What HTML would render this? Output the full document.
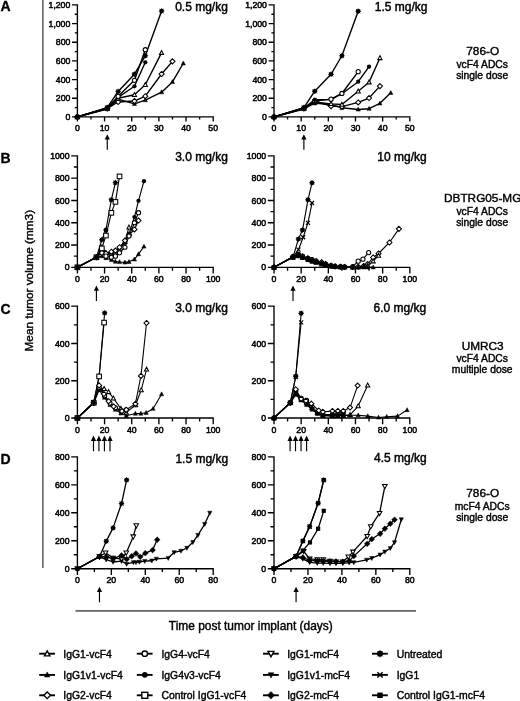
<!DOCTYPE html>
<html lang="en"><head><meta charset="utf-8"><title>Figure</title>
<style>
html,body{margin:0;padding:0;background:#fff;}
body{width:520px;height:701px;overflow:hidden;}
svg{display:block;}
text{font-family:"Liberation Sans",Arial,Helvetica,sans-serif;fill:#000;stroke:#000;stroke-width:0.3px;}
.t{font-size:8.7px;stroke-width:0.5px;}
.d{font-size:12px;stroke-width:0.45px;}
.p{font-size:14px;font-weight:bold;}
.yt{font-size:11.8px;stroke-width:0.4px;}
.xt{font-size:11.93px;stroke-width:0.4px;}
.r1{font-size:11.8px;stroke-width:0.4px;}
.r2{font-size:10.3px;stroke-width:0.4px;}
.l{font-size:10.4px;stroke-width:0.4px;}
</style></head><body>
<svg width="520" height="701" viewBox="0 0 520 701">
<rect width="520" height="701" fill="#fff"/>
<path d="M42.9 0L42.9 568" stroke="#333" stroke-width="1.2" fill="none"/>
<path d="M75.5 610.9L416 610.9" stroke="#666" stroke-width="1.7" fill="none"/>
<text class="p" x="0.5" y="10.8">A</text>
<text class="p" x="0.5" y="163.2">B</text>
<text class="p" x="0.5" y="314.2">C</text>
<text class="p" x="0.5" y="464">D</text>
<text class="yt" transform="translate(33 351.5) rotate(-90)">Mean tumor volume (mm3)</text>
<text class="xt" x="168.8" y="630.2">Time post tumor implant (days)</text>
<text class="r1" x="482.7" y="55.4" text-anchor="middle">786-O</text>
<text class="r2" x="482.2" y="68" text-anchor="middle">vcF4 ADCs</text>
<text class="r2" x="482.2" y="79.3" text-anchor="middle">single dose</text>
<text class="r1" x="482.7" y="202.1" text-anchor="middle">DBTRG05-MG</text>
<text class="r2" x="482.2" y="214.7" text-anchor="middle">vcF4 ADCs</text>
<text class="r2" x="482.2" y="226" text-anchor="middle">single dose</text>
<text class="r1" x="482.7" y="349.5" text-anchor="middle">UMRC3</text>
<text class="r2" x="482.2" y="362.1" text-anchor="middle">vcF4 ADCs</text>
<text class="r2" x="482.2" y="373.4" text-anchor="middle">multiple dose</text>
<text class="r1" x="482.7" y="497" text-anchor="middle">786-O</text>
<text class="r2" x="482.2" y="509.6" text-anchor="middle">mcF4 ADCs</text>
<text class="r2" x="482.2" y="520.9" text-anchor="middle">single dose</text>
<path d="M77.4 4.23L77.4 121.6M72 116.9L213.88 116.9M74.8 107.57L77.4 107.57M72 98.23L77.4 98.23M74.8 88.9L77.4 88.9M72 79.57L77.4 79.57M74.8 70.24L77.4 70.24M72 60.9L77.4 60.9M74.8 51.57L77.4 51.57M72 42.24L77.4 42.24M74.8 32.9L77.4 32.9M72 23.57L77.4 23.57M74.8 14.24L77.4 14.24M72 4.9L77.4 4.9M90.98 116.9L90.98 119.4M104.56 116.9L104.56 121.6M118.14 116.9L118.14 119.4M131.72 116.9L131.72 121.6M145.3 116.9L145.3 119.4M158.88 116.9L158.88 121.6M172.46 116.9L172.46 119.4M186.04 116.9L186.04 121.6M199.62 116.9L199.62 119.4M213.2 116.9L213.2 121.6" stroke="#000" stroke-width="1.35" fill="none"/>
<text class="t" x="70.3" y="119.95" text-anchor="end">0</text>
<text class="t" x="70.3" y="101.28" text-anchor="end">200</text>
<text class="t" x="70.3" y="82.62" text-anchor="end">400</text>
<text class="t" x="70.3" y="63.95" text-anchor="end">600</text>
<text class="t" x="70.3" y="45.29" text-anchor="end">800</text>
<text class="t" x="70.3" y="26.62" text-anchor="end">1,000</text>
<text class="t" x="70.3" y="7.95" text-anchor="end">1,200</text>
<text class="t" x="77.4" y="130.6" text-anchor="middle">0</text>
<text class="t" x="104.56" y="130.6" text-anchor="middle">10</text>
<text class="t" x="131.72" y="130.6" text-anchor="middle">20</text>
<text class="t" x="158.88" y="130.6" text-anchor="middle">30</text>
<text class="t" x="186.04" y="130.6" text-anchor="middle">40</text>
<text class="t" x="213.2" y="130.6" text-anchor="middle">50</text>
<text class="d" x="175.2" y="10.7">0.5 mg/kg</text>
<polyline points="77.4,116.9 107.28,108.97 118.14,99.17 134.44,103.83 145.3,100.1 161.6,92.17 172.46,81.9 183.32,63.24" fill="none" stroke="#000" stroke-width="1.4" stroke-linejoin="round"/>
<polyline points="77.4,116.9 107.28,108.5 118.14,101.97 134.44,101.03 145.3,96.18 161.6,73.97 172.46,61.37" fill="none" stroke="#000" stroke-width="1.4" stroke-linejoin="round"/>
<polyline points="77.4,116.9 107.28,108.5 118.14,98.23 134.44,94.78 145.3,84.7 161.6,52.69" fill="none" stroke="#000" stroke-width="1.4" stroke-linejoin="round"/>
<polyline points="77.4,116.9 107.28,108.03 118.14,97.3 134.44,86.29 145.3,62.3" fill="none" stroke="#000" stroke-width="1.4" stroke-linejoin="round"/>
<polyline points="77.4,116.9 107.28,108.03 118.14,96.37 134.44,80.31 145.3,49.7" fill="none" stroke="#000" stroke-width="1.4" stroke-linejoin="round"/>
<polyline points="77.4,116.9 107.28,107.57 118.14,91.42 134.44,74.15 145.3,55.77 161.6,10.97" fill="none" stroke="#000" stroke-width="1.4" stroke-linejoin="round"/>
<polygon points="77.4,114.6 75.3,118.55 79.5,118.55" fill="#000" stroke="#000" stroke-width="0.5"/>
<polygon points="107.28,106.67 105.18,110.62 109.38,110.62" fill="#000" stroke="#000" stroke-width="0.5"/>
<polygon points="118.14,96.87 116.04,100.82 120.24,100.82" fill="#000" stroke="#000" stroke-width="0.5"/>
<polygon points="134.44,101.53 132.34,105.48 136.54,105.48" fill="#000" stroke="#000" stroke-width="0.5"/>
<polygon points="145.3,97.8 143.2,101.75 147.4,101.75" fill="#000" stroke="#000" stroke-width="0.5"/>
<polygon points="161.6,89.87 159.5,93.82 163.7,93.82" fill="#000" stroke="#000" stroke-width="0.5"/>
<polygon points="172.46,79.6 170.36,83.55 174.56,83.55" fill="#000" stroke="#000" stroke-width="0.5"/>
<polygon points="183.32,60.94 181.22,64.89 185.42,64.89" fill="#000" stroke="#000" stroke-width="0.5"/>
<polygon points="77.4,114.35 79.95,116.9 77.4,119.45 74.85,116.9" fill="#fff" stroke="#000" stroke-width="1.05"/>
<polygon points="107.28,105.95 109.83,108.5 107.28,111.05 104.73,108.5" fill="#fff" stroke="#000" stroke-width="1.05"/>
<polygon points="118.14,99.42 120.69,101.97 118.14,104.52 115.59,101.97" fill="#fff" stroke="#000" stroke-width="1.05"/>
<polygon points="134.44,98.48 136.99,101.03 134.44,103.58 131.89,101.03" fill="#fff" stroke="#000" stroke-width="1.05"/>
<polygon points="145.3,93.63 147.85,96.18 145.3,98.73 142.75,96.18" fill="#fff" stroke="#000" stroke-width="1.05"/>
<polygon points="161.6,71.42 164.15,73.97 161.6,76.52 159.05,73.97" fill="#fff" stroke="#000" stroke-width="1.05"/>
<polygon points="172.46,58.82 175.01,61.37 172.46,63.92 169.91,61.37" fill="#fff" stroke="#000" stroke-width="1.05"/>
<polygon points="77.4,114.7 75.3,118.6 79.5,118.6" fill="#fff" stroke="#000" stroke-width="1.05"/>
<polygon points="107.28,106.3 105.18,110.2 109.38,110.2" fill="#fff" stroke="#000" stroke-width="1.05"/>
<polygon points="118.14,96.03 116.04,99.93 120.24,99.93" fill="#fff" stroke="#000" stroke-width="1.05"/>
<polygon points="134.44,92.58 132.34,96.48 136.54,96.48" fill="#fff" stroke="#000" stroke-width="1.05"/>
<polygon points="145.3,82.5 143.2,86.4 147.4,86.4" fill="#fff" stroke="#000" stroke-width="1.05"/>
<polygon points="161.6,50.49 159.5,54.39 163.7,54.39" fill="#fff" stroke="#000" stroke-width="1.05"/>
<circle cx="77.4" cy="116.9" r="2.15" fill="#000"/>
<circle cx="107.28" cy="108.03" r="2.15" fill="#000"/>
<circle cx="118.14" cy="97.3" r="2.15" fill="#000"/>
<circle cx="134.44" cy="86.29" r="2.15" fill="#000"/>
<circle cx="145.3" cy="62.3" r="2.15" fill="#000"/>
<circle cx="77.4" cy="116.9" r="2.1" fill="#fff" stroke="#000" stroke-width="1.05"/>
<circle cx="107.28" cy="108.03" r="2.1" fill="#fff" stroke="#000" stroke-width="1.05"/>
<circle cx="118.14" cy="96.37" r="2.1" fill="#fff" stroke="#000" stroke-width="1.05"/>
<circle cx="134.44" cy="80.31" r="2.1" fill="#fff" stroke="#000" stroke-width="1.05"/>
<circle cx="145.3" cy="49.7" r="2.1" fill="#fff" stroke="#000" stroke-width="1.05"/>
<g stroke="#000" stroke-width="0.8"><circle cx="77.4" cy="116.9" r="2.25" fill="#000" stroke="none"/><path d="M75.37 114.87L79.44 118.94M75.37 118.94L79.44 114.87M74.65 116.9L80.15 116.9M77.4 114.15L77.4 119.65"/></g>
<g stroke="#000" stroke-width="0.8"><circle cx="107.28" cy="107.57" r="2.25" fill="#000" stroke="none"/><path d="M105.24 105.53L109.31 109.6M105.24 109.6L109.31 105.53M104.53 107.57L110.03 107.57M107.28 104.82L107.28 110.32"/></g>
<g stroke="#000" stroke-width="0.8"><circle cx="118.14" cy="91.42" r="2.25" fill="#000" stroke="none"/><path d="M116.11 89.39L120.18 93.46M116.11 93.46L120.18 89.39M115.39 91.42L120.89 91.42M118.14 88.67L118.14 94.17"/></g>
<g stroke="#000" stroke-width="0.8"><circle cx="134.44" cy="74.15" r="2.25" fill="#000" stroke="none"/><path d="M132.4 72.12L136.47 76.19M132.4 76.19L136.47 72.12M131.69 74.15L137.19 74.15M134.44 71.4L134.44 76.9"/></g>
<g stroke="#000" stroke-width="0.8"><circle cx="145.3" cy="55.77" r="2.25" fill="#000" stroke="none"/><path d="M143.27 53.73L147.34 57.8M143.27 57.8L147.34 53.73M142.55 55.77L148.05 55.77M145.3 53.02L145.3 58.52"/></g>
<g stroke="#000" stroke-width="0.8"><circle cx="161.6" cy="10.97" r="2.25" fill="#000" stroke="none"/><path d="M159.56 8.94L163.63 13.01M159.56 13.01L163.63 8.94M158.85 10.97L164.35 10.97M161.6 8.22L161.6 13.72"/></g>
<path d="M107.28 137.2L107.28 149.8" stroke="#000" stroke-width="1.15" fill="none"/>
<polygon points="107.28,134.2 104.68,139.6 109.88,139.6" fill="#000"/>
<path d="M274 4.23L274 121.6M268.6 116.9L410.48 116.9M271.4 107.57L274 107.57M268.6 98.23L274 98.23M271.4 88.9L274 88.9M268.6 79.57L274 79.57M271.4 70.24L274 70.24M268.6 60.9L274 60.9M271.4 51.57L274 51.57M268.6 42.24L274 42.24M271.4 32.9L274 32.9M268.6 23.57L274 23.57M271.4 14.24L274 14.24M268.6 4.9L274 4.9M287.58 116.9L287.58 119.4M301.16 116.9L301.16 121.6M314.74 116.9L314.74 119.4M328.32 116.9L328.32 121.6M341.9 116.9L341.9 119.4M355.48 116.9L355.48 121.6M369.06 116.9L369.06 119.4M382.64 116.9L382.64 121.6M396.22 116.9L396.22 119.4M409.8 116.9L409.8 121.6" stroke="#000" stroke-width="1.35" fill="none"/>
<text class="t" x="266.9" y="119.95" text-anchor="end">0</text>
<text class="t" x="266.9" y="101.28" text-anchor="end">200</text>
<text class="t" x="266.9" y="82.62" text-anchor="end">400</text>
<text class="t" x="266.9" y="63.95" text-anchor="end">600</text>
<text class="t" x="266.9" y="45.29" text-anchor="end">800</text>
<text class="t" x="266.9" y="26.62" text-anchor="end">1,000</text>
<text class="t" x="266.9" y="7.95" text-anchor="end">1,200</text>
<text class="t" x="274" y="130.6" text-anchor="middle">0</text>
<text class="t" x="301.16" y="130.6" text-anchor="middle">10</text>
<text class="t" x="328.32" y="130.6" text-anchor="middle">20</text>
<text class="t" x="355.48" y="130.6" text-anchor="middle">30</text>
<text class="t" x="382.64" y="130.6" text-anchor="middle">40</text>
<text class="t" x="409.8" y="130.6" text-anchor="middle">50</text>
<text class="d" x="374.8" y="10.7">1.5 mg/kg</text>
<polyline points="274,116.9 303.88,108.97 314.74,103.09 331.04,104.77 341.9,107.75 358.2,109.43 369.06,108.69 379.92,103.37 390.79,92.82" fill="none" stroke="#000" stroke-width="1.4" stroke-linejoin="round"/>
<polyline points="274,116.9 303.88,108.5 314.74,101.03 331.04,106.17 341.9,106.63 358.2,102.43 369.06,98.05 379.92,86.1" fill="none" stroke="#000" stroke-width="1.4" stroke-linejoin="round"/>
<polyline points="274,116.9 303.88,108.5 314.74,101.97 331.04,103.83 341.9,104.49 358.2,91.23 369.06,82.18 379.92,57.92" fill="none" stroke="#000" stroke-width="1.4" stroke-linejoin="round"/>
<polyline points="274,116.9 303.88,108.03 314.74,99.82 331.04,99.63 341.9,93.75 358.2,81.71 369.06,66.69" fill="none" stroke="#000" stroke-width="1.4" stroke-linejoin="round"/>
<polyline points="274,116.9 303.88,108.03 314.74,101.03 331.04,99.17 341.9,93.47 358.2,71.63" fill="none" stroke="#000" stroke-width="1.4" stroke-linejoin="round"/>
<polyline points="274,116.9 303.88,107.57 314.74,91.23 331.04,74.25 341.9,55.77 358.2,11.16" fill="none" stroke="#000" stroke-width="1.4" stroke-linejoin="round"/>
<polygon points="274,114.6 271.9,118.55 276.1,118.55" fill="#000" stroke="#000" stroke-width="0.5"/>
<polygon points="303.88,106.67 301.78,110.62 305.98,110.62" fill="#000" stroke="#000" stroke-width="0.5"/>
<polygon points="314.74,100.79 312.64,104.74 316.84,104.74" fill="#000" stroke="#000" stroke-width="0.5"/>
<polygon points="331.04,102.47 328.94,106.42 333.14,106.42" fill="#000" stroke="#000" stroke-width="0.5"/>
<polygon points="341.9,105.45 339.8,109.4 344,109.4" fill="#000" stroke="#000" stroke-width="0.5"/>
<polygon points="358.2,107.13 356.1,111.08 360.3,111.08" fill="#000" stroke="#000" stroke-width="0.5"/>
<polygon points="369.06,106.39 366.96,110.34 371.16,110.34" fill="#000" stroke="#000" stroke-width="0.5"/>
<polygon points="379.92,101.07 377.82,105.02 382.02,105.02" fill="#000" stroke="#000" stroke-width="0.5"/>
<polygon points="390.79,90.52 388.69,94.47 392.89,94.47" fill="#000" stroke="#000" stroke-width="0.5"/>
<polygon points="274,114.35 276.55,116.9 274,119.45 271.45,116.9" fill="#fff" stroke="#000" stroke-width="1.05"/>
<polygon points="303.88,105.95 306.43,108.5 303.88,111.05 301.33,108.5" fill="#fff" stroke="#000" stroke-width="1.05"/>
<polygon points="314.74,98.48 317.29,101.03 314.74,103.58 312.19,101.03" fill="#fff" stroke="#000" stroke-width="1.05"/>
<polygon points="331.04,103.62 333.59,106.17 331.04,108.72 328.49,106.17" fill="#fff" stroke="#000" stroke-width="1.05"/>
<polygon points="341.9,104.08 344.45,106.63 341.9,109.18 339.35,106.63" fill="#fff" stroke="#000" stroke-width="1.05"/>
<polygon points="358.2,99.88 360.75,102.43 358.2,104.98 355.65,102.43" fill="#fff" stroke="#000" stroke-width="1.05"/>
<polygon points="369.06,95.5 371.61,98.05 369.06,100.6 366.51,98.05" fill="#fff" stroke="#000" stroke-width="1.05"/>
<polygon points="379.92,83.55 382.47,86.1 379.92,88.65 377.37,86.1" fill="#fff" stroke="#000" stroke-width="1.05"/>
<polygon points="274,114.7 271.9,118.6 276.1,118.6" fill="#fff" stroke="#000" stroke-width="1.05"/>
<polygon points="303.88,106.3 301.78,110.2 305.98,110.2" fill="#fff" stroke="#000" stroke-width="1.05"/>
<polygon points="314.74,99.77 312.64,103.67 316.84,103.67" fill="#fff" stroke="#000" stroke-width="1.05"/>
<polygon points="331.04,101.63 328.94,105.53 333.14,105.53" fill="#fff" stroke="#000" stroke-width="1.05"/>
<polygon points="341.9,102.29 339.8,106.19 344,106.19" fill="#fff" stroke="#000" stroke-width="1.05"/>
<polygon points="358.2,89.03 356.1,92.93 360.3,92.93" fill="#fff" stroke="#000" stroke-width="1.05"/>
<polygon points="369.06,79.98 366.96,83.88 371.16,83.88" fill="#fff" stroke="#000" stroke-width="1.05"/>
<polygon points="379.92,55.72 377.82,59.62 382.02,59.62" fill="#fff" stroke="#000" stroke-width="1.05"/>
<circle cx="274" cy="116.9" r="2.15" fill="#000"/>
<circle cx="303.88" cy="108.03" r="2.15" fill="#000"/>
<circle cx="314.74" cy="99.82" r="2.15" fill="#000"/>
<circle cx="331.04" cy="99.63" r="2.15" fill="#000"/>
<circle cx="341.9" cy="93.75" r="2.15" fill="#000"/>
<circle cx="358.2" cy="81.71" r="2.15" fill="#000"/>
<circle cx="369.06" cy="66.69" r="2.15" fill="#000"/>
<circle cx="274" cy="116.9" r="2.1" fill="#fff" stroke="#000" stroke-width="1.05"/>
<circle cx="303.88" cy="108.03" r="2.1" fill="#fff" stroke="#000" stroke-width="1.05"/>
<circle cx="314.74" cy="101.03" r="2.1" fill="#fff" stroke="#000" stroke-width="1.05"/>
<circle cx="331.04" cy="99.17" r="2.1" fill="#fff" stroke="#000" stroke-width="1.05"/>
<circle cx="341.9" cy="93.47" r="2.1" fill="#fff" stroke="#000" stroke-width="1.05"/>
<circle cx="358.2" cy="71.63" r="2.1" fill="#fff" stroke="#000" stroke-width="1.05"/>
<g stroke="#000" stroke-width="0.8"><circle cx="274" cy="116.9" r="2.25" fill="#000" stroke="none"/><path d="M271.96 114.87L276.04 118.94M271.96 118.94L276.04 114.87M271.25 116.9L276.75 116.9M274 114.15L274 119.65"/></g>
<g stroke="#000" stroke-width="0.8"><circle cx="303.88" cy="107.57" r="2.25" fill="#000" stroke="none"/><path d="M301.84 105.53L305.91 109.6M301.84 109.6L305.91 105.53M301.13 107.57L306.63 107.57M303.88 104.82L303.88 110.32"/></g>
<g stroke="#000" stroke-width="0.8"><circle cx="314.74" cy="91.23" r="2.25" fill="#000" stroke="none"/><path d="M312.7 89.2L316.78 93.27M312.7 93.27L316.78 89.2M311.99 91.23L317.49 91.23M314.74 88.48L314.74 93.98"/></g>
<g stroke="#000" stroke-width="0.8"><circle cx="331.04" cy="74.25" r="2.25" fill="#000" stroke="none"/><path d="M329 72.21L333.07 76.28M329 76.28L333.07 72.21M328.29 74.25L333.79 74.25M331.04 71.5L331.04 77"/></g>
<g stroke="#000" stroke-width="0.8"><circle cx="341.9" cy="55.77" r="2.25" fill="#000" stroke="none"/><path d="M339.86 53.73L343.94 57.8M339.86 57.8L343.94 53.73M339.15 55.77L344.65 55.77M341.9 53.02L341.9 58.52"/></g>
<g stroke="#000" stroke-width="0.8"><circle cx="358.2" cy="11.16" r="2.25" fill="#000" stroke="none"/><path d="M356.16 9.12L360.23 13.19M356.16 13.19L360.23 9.12M355.45 11.16L360.95 11.16M358.2 8.41L358.2 13.91"/></g>
<circle cx="314.74" cy="99.82" r="2.15" fill="#000"/>
<polygon points="314.74,100.79 312.64,104.74 316.84,104.74" fill="#000" stroke="#000" stroke-width="0.5"/>
<path d="M303.88 137.2L303.88 149.8" stroke="#000" stroke-width="1.15" fill="none"/>
<polygon points="303.88,134.2 301.28,139.6 306.48,139.6" fill="#000"/>
<path d="M77.4 155.22L77.4 273.6M71.2 267.3L213.88 267.3M73.9 256.16L77.4 256.16M71.2 245.02L77.4 245.02M73.9 233.88L77.4 233.88M71.2 222.74L77.4 222.74M73.9 211.6L77.4 211.6M71.2 200.46L77.4 200.46M73.9 189.32L77.4 189.32M71.2 178.18L77.4 178.18M73.9 167.04L77.4 167.04M71.2 155.9L77.4 155.9M90.98 267.3L90.98 270.7M104.56 267.3L104.56 273.6M118.14 267.3L118.14 270.7M131.72 267.3L131.72 273.6M145.3 267.3L145.3 270.7M158.88 267.3L158.88 273.6M172.46 267.3L172.46 270.7M186.04 267.3L186.04 273.6M199.62 267.3L199.62 270.7M213.2 267.3L213.2 273.6" stroke="#000" stroke-width="1.35" fill="none"/>
<text class="t" x="69.5" y="270.35" text-anchor="end">0</text>
<text class="t" x="69.5" y="248.07" text-anchor="end">200</text>
<text class="t" x="69.5" y="225.79" text-anchor="end">400</text>
<text class="t" x="69.5" y="203.51" text-anchor="end">600</text>
<text class="t" x="69.5" y="181.23" text-anchor="end">800</text>
<text class="t" x="69.5" y="158.95" text-anchor="end">1000</text>
<text class="t" x="77.4" y="281.9" text-anchor="middle">0</text>
<text class="t" x="104.56" y="281.9" text-anchor="middle">20</text>
<text class="t" x="131.72" y="281.9" text-anchor="middle">40</text>
<text class="t" x="158.88" y="281.9" text-anchor="middle">60</text>
<text class="t" x="186.04" y="281.9" text-anchor="middle">80</text>
<text class="t" x="213.2" y="281.9" text-anchor="middle">100</text>
<text class="d" x="175.2" y="161.2">3.0 mg/kg</text>
<polyline points="77.4,267.3 96.41,257.27 101.84,256.16 105.92,258.05 111.35,259.95 115.42,261.51 119.5,261.95 124.93,262.4 129,261.84 134.44,259.28 138.51,254.15 143.94,246.47" fill="none" stroke="#000" stroke-width="1.12" stroke-linejoin="round"/>
<polyline points="77.4,267.3 96.41,257.27 101.84,250.59 105.92,253.93 111.35,255.05 115.42,252.82 119.5,248.36 124.93,242.79 129,233.88 134.44,217.06 138.51,200.79 143.94,181.19" fill="none" stroke="#000" stroke-width="1.12" stroke-linejoin="round"/>
<polyline points="77.4,267.3 96.41,257.27 101.84,247.25 105.92,252.82 111.35,253.93 115.42,252.82 119.5,249.48 124.93,241.68 129,227.2" fill="none" stroke="#000" stroke-width="1.12" stroke-linejoin="round"/>
<polyline points="77.4,267.3 96.41,257.27 101.84,251.7 105.92,253.38 111.35,251.7 115.42,250.59 119.5,247.25 124.93,240.56 129,234.99 134.44,229.42 138.51,220.51" fill="none" stroke="#000" stroke-width="1.12" stroke-linejoin="round"/>
<polyline points="77.4,267.3 96.41,257.27 101.84,252.82 105.92,256.16 111.35,257.27 115.42,256.16 119.5,252.82 124.93,247.25 129,236.11 134.44,222.74 138.51,212.71" fill="none" stroke="#000" stroke-width="1.12" stroke-linejoin="round"/>
<polyline points="77.4,267.3 96.41,257.27 101.84,248.36 105.92,235.55 111.35,212.83 115.42,201.91 119.5,176.4" fill="none" stroke="#000" stroke-width="1.12" stroke-linejoin="round"/>
<polyline points="77.4,267.3 96.41,257.27 101.84,239.78 105.92,230.09 111.35,199.79 115.42,182.64" fill="none" stroke="#000" stroke-width="1.12" stroke-linejoin="round"/>
<polygon points="77.4,265 75.3,268.95 79.5,268.95" fill="#000" stroke="#000" stroke-width="0.5"/>
<polygon points="96.41,254.97 94.31,258.92 98.51,258.92" fill="#000" stroke="#000" stroke-width="0.5"/>
<polygon points="101.84,253.86 99.74,257.81 103.94,257.81" fill="#000" stroke="#000" stroke-width="0.5"/>
<polygon points="105.92,255.75 103.82,259.7 108.02,259.7" fill="#000" stroke="#000" stroke-width="0.5"/>
<polygon points="111.35,257.65 109.25,261.6 113.45,261.6" fill="#000" stroke="#000" stroke-width="0.5"/>
<polygon points="115.42,259.21 113.32,263.16 117.52,263.16" fill="#000" stroke="#000" stroke-width="0.5"/>
<polygon points="119.5,259.65 117.4,263.6 121.6,263.6" fill="#000" stroke="#000" stroke-width="0.5"/>
<polygon points="124.93,260.1 122.83,264.05 127.03,264.05" fill="#000" stroke="#000" stroke-width="0.5"/>
<polygon points="129,259.54 126.9,263.49 131.1,263.49" fill="#000" stroke="#000" stroke-width="0.5"/>
<polygon points="134.44,256.98 132.34,260.93 136.54,260.93" fill="#000" stroke="#000" stroke-width="0.5"/>
<polygon points="138.51,251.85 136.41,255.8 140.61,255.8" fill="#000" stroke="#000" stroke-width="0.5"/>
<polygon points="143.94,244.17 141.84,248.12 146.04,248.12" fill="#000" stroke="#000" stroke-width="0.5"/>
<circle cx="77.4" cy="267.3" r="2.15" fill="#000"/>
<circle cx="96.41" cy="257.27" r="2.15" fill="#000"/>
<circle cx="101.84" cy="250.59" r="2.15" fill="#000"/>
<circle cx="105.92" cy="253.93" r="2.15" fill="#000"/>
<circle cx="111.35" cy="255.05" r="2.15" fill="#000"/>
<circle cx="115.42" cy="252.82" r="2.15" fill="#000"/>
<circle cx="119.5" cy="248.36" r="2.15" fill="#000"/>
<circle cx="124.93" cy="242.79" r="2.15" fill="#000"/>
<circle cx="129" cy="233.88" r="2.15" fill="#000"/>
<circle cx="134.44" cy="217.06" r="2.15" fill="#000"/>
<circle cx="138.51" cy="200.79" r="2.15" fill="#000"/>
<circle cx="143.94" cy="181.19" r="2.15" fill="#000"/>
<polygon points="77.4,265.1 75.3,269 79.5,269" fill="#fff" stroke="#000" stroke-width="1.05"/>
<polygon points="96.41,255.07 94.31,258.97 98.51,258.97" fill="#fff" stroke="#000" stroke-width="1.05"/>
<polygon points="101.84,245.05 99.74,248.95 103.94,248.95" fill="#fff" stroke="#000" stroke-width="1.05"/>
<polygon points="105.92,250.62 103.82,254.52 108.02,254.52" fill="#fff" stroke="#000" stroke-width="1.05"/>
<polygon points="111.35,251.73 109.25,255.63 113.45,255.63" fill="#fff" stroke="#000" stroke-width="1.05"/>
<polygon points="115.42,250.62 113.32,254.52 117.52,254.52" fill="#fff" stroke="#000" stroke-width="1.05"/>
<polygon points="119.5,247.28 117.4,251.18 121.6,251.18" fill="#fff" stroke="#000" stroke-width="1.05"/>
<polygon points="124.93,239.48 122.83,243.38 127.03,243.38" fill="#fff" stroke="#000" stroke-width="1.05"/>
<polygon points="129,225 126.9,228.9 131.1,228.9" fill="#fff" stroke="#000" stroke-width="1.05"/>
<polygon points="77.4,264.75 79.95,267.3 77.4,269.85 74.85,267.3" fill="#fff" stroke="#000" stroke-width="1.05"/>
<polygon points="96.41,254.72 98.96,257.27 96.41,259.82 93.86,257.27" fill="#fff" stroke="#000" stroke-width="1.05"/>
<polygon points="101.84,249.15 104.39,251.7 101.84,254.25 99.29,251.7" fill="#fff" stroke="#000" stroke-width="1.05"/>
<polygon points="105.92,250.82 108.47,253.38 105.92,255.93 103.37,253.38" fill="#fff" stroke="#000" stroke-width="1.05"/>
<polygon points="111.35,249.15 113.9,251.7 111.35,254.25 108.8,251.7" fill="#fff" stroke="#000" stroke-width="1.05"/>
<polygon points="115.42,248.04 117.97,250.59 115.42,253.14 112.87,250.59" fill="#fff" stroke="#000" stroke-width="1.05"/>
<polygon points="119.5,244.7 122.05,247.25 119.5,249.8 116.95,247.25" fill="#fff" stroke="#000" stroke-width="1.05"/>
<polygon points="124.93,238.01 127.48,240.56 124.93,243.11 122.38,240.56" fill="#fff" stroke="#000" stroke-width="1.05"/>
<polygon points="129,232.44 131.55,234.99 129,237.54 126.45,234.99" fill="#fff" stroke="#000" stroke-width="1.05"/>
<polygon points="134.44,226.87 136.99,229.42 134.44,231.97 131.89,229.42" fill="#fff" stroke="#000" stroke-width="1.05"/>
<polygon points="138.51,217.96 141.06,220.51 138.51,223.06 135.96,220.51" fill="#fff" stroke="#000" stroke-width="1.05"/>
<circle cx="77.4" cy="267.3" r="2.1" fill="#fff" stroke="#000" stroke-width="1.05"/>
<circle cx="96.41" cy="257.27" r="2.1" fill="#fff" stroke="#000" stroke-width="1.05"/>
<circle cx="101.84" cy="252.82" r="2.1" fill="#fff" stroke="#000" stroke-width="1.05"/>
<circle cx="105.92" cy="256.16" r="2.1" fill="#fff" stroke="#000" stroke-width="1.05"/>
<circle cx="111.35" cy="257.27" r="2.1" fill="#fff" stroke="#000" stroke-width="1.05"/>
<circle cx="115.42" cy="256.16" r="2.1" fill="#fff" stroke="#000" stroke-width="1.05"/>
<circle cx="119.5" cy="252.82" r="2.1" fill="#fff" stroke="#000" stroke-width="1.05"/>
<circle cx="124.93" cy="247.25" r="2.1" fill="#fff" stroke="#000" stroke-width="1.05"/>
<circle cx="129" cy="236.11" r="2.1" fill="#fff" stroke="#000" stroke-width="1.05"/>
<circle cx="134.44" cy="222.74" r="2.1" fill="#fff" stroke="#000" stroke-width="1.05"/>
<circle cx="138.51" cy="212.71" r="2.1" fill="#fff" stroke="#000" stroke-width="1.05"/>
<rect x="75.1" y="265" width="4.6" height="4.6" fill="#fff" stroke="#000" stroke-width="1.05"/>
<rect x="94.11" y="254.97" width="4.6" height="4.6" fill="#fff" stroke="#000" stroke-width="1.05"/>
<rect x="99.54" y="246.06" width="4.6" height="4.6" fill="#fff" stroke="#000" stroke-width="1.05"/>
<rect x="103.62" y="233.25" width="4.6" height="4.6" fill="#fff" stroke="#000" stroke-width="1.05"/>
<rect x="109.05" y="210.53" width="4.6" height="4.6" fill="#fff" stroke="#000" stroke-width="1.05"/>
<rect x="113.12" y="199.61" width="4.6" height="4.6" fill="#fff" stroke="#000" stroke-width="1.05"/>
<rect x="117.2" y="174.1" width="4.6" height="4.6" fill="#fff" stroke="#000" stroke-width="1.05"/>
<g stroke="#000" stroke-width="0.8"><circle cx="77.4" cy="267.3" r="2.25" fill="#000" stroke="none"/><path d="M75.37 265.26L79.44 269.34M75.37 269.34L79.44 265.26M74.65 267.3L80.15 267.3M77.4 264.55L77.4 270.05"/></g>
<g stroke="#000" stroke-width="0.8"><circle cx="96.41" cy="257.27" r="2.25" fill="#000" stroke="none"/><path d="M94.38 255.24L98.45 259.31M94.38 259.31L98.45 255.24M93.66 257.27L99.16 257.27M96.41 254.52L96.41 260.02"/></g>
<g stroke="#000" stroke-width="0.8"><circle cx="101.84" cy="239.78" r="2.25" fill="#000" stroke="none"/><path d="M99.81 237.75L103.88 241.82M99.81 241.82L103.88 237.75M99.09 239.78L104.59 239.78M101.84 237.03L101.84 242.53"/></g>
<g stroke="#000" stroke-width="0.8"><circle cx="105.92" cy="230.09" r="2.25" fill="#000" stroke="none"/><path d="M103.88 228.06L107.95 232.13M103.88 232.13L107.95 228.06M103.17 230.09L108.67 230.09M105.92 227.34L105.92 232.84"/></g>
<g stroke="#000" stroke-width="0.8"><circle cx="111.35" cy="199.79" r="2.25" fill="#000" stroke="none"/><path d="M109.32 197.76L113.39 201.83M109.32 201.83L113.39 197.76M108.6 199.79L114.1 199.79M111.35 197.04L111.35 202.54"/></g>
<g stroke="#000" stroke-width="0.8"><circle cx="115.42" cy="182.64" r="2.25" fill="#000" stroke="none"/><path d="M113.39 180.6L117.46 184.67M113.39 184.67L117.46 180.6M112.67 182.64L118.17 182.64M115.42 179.89L115.42 185.39"/></g>
<path d="M96.41 288.4L96.41 301" stroke="#000" stroke-width="1.15" fill="none"/>
<polygon points="96.41,285.4 93.81,290.8 99.01,290.8" fill="#000"/>
<path d="M274 155.22L274 273.6M267.8 267.3L410.48 267.3M270.5 256.16L274 256.16M267.8 245.02L274 245.02M270.5 233.88L274 233.88M267.8 222.74L274 222.74M270.5 211.6L274 211.6M267.8 200.46L274 200.46M270.5 189.32L274 189.32M267.8 178.18L274 178.18M270.5 167.04L274 167.04M267.8 155.9L274 155.9M287.58 267.3L287.58 270.7M301.16 267.3L301.16 273.6M314.74 267.3L314.74 270.7M328.32 267.3L328.32 273.6M341.9 267.3L341.9 270.7M355.48 267.3L355.48 273.6M369.06 267.3L369.06 270.7M382.64 267.3L382.64 273.6M396.22 267.3L396.22 270.7M409.8 267.3L409.8 273.6" stroke="#000" stroke-width="1.35" fill="none"/>
<text class="t" x="266.1" y="270.35" text-anchor="end">0</text>
<text class="t" x="266.1" y="248.07" text-anchor="end">200</text>
<text class="t" x="266.1" y="225.79" text-anchor="end">400</text>
<text class="t" x="266.1" y="203.51" text-anchor="end">600</text>
<text class="t" x="266.1" y="181.23" text-anchor="end">800</text>
<text class="t" x="266.1" y="158.95" text-anchor="end">1000</text>
<text class="t" x="274" y="281.9" text-anchor="middle">0</text>
<text class="t" x="301.16" y="281.9" text-anchor="middle">20</text>
<text class="t" x="328.32" y="281.9" text-anchor="middle">40</text>
<text class="t" x="355.48" y="281.9" text-anchor="middle">60</text>
<text class="t" x="382.64" y="281.9" text-anchor="middle">80</text>
<text class="t" x="409.8" y="281.9" text-anchor="middle">100</text>
<text class="d" x="377.3" y="161.2">10 mg/kg</text>
<polyline points="274,267.3 293.01,256.72 298.44,254.49 302.52,256.16 307.95,258.39 312.02,259.72 316.1,261.17 321.53,262.84 325.6,264.18 331.04,265.63 335.11,266.41 340.54,266.74 344.62,266.97 352.76,266.74 358.2,261.17 362.95,259.17 368.65,252.6" fill="none" stroke="#000" stroke-width="1.12" stroke-linejoin="round"/>
<polyline points="274,267.3 293.01,256.72 298.44,255.05 302.52,256.72 307.95,258.39 312.02,260.06 316.1,261.17 321.53,262.29 325.6,263.96 331.04,265.63 335.11,266.41 340.54,266.74 344.62,266.97 352.76,267.08 358.2,266.74 363.63,265.96 367.7,264.07 373.13,257.5 378.57,253.49 389.43,242.46 398.94,228.87" fill="none" stroke="#000" stroke-width="1.12" stroke-linejoin="round"/>
<polyline points="274,267.3 293.01,257.27 298.44,255.6 302.52,257.27 307.95,258.94 312.02,260.62 316.1,261.95 321.53,263.4 325.6,264.85 331.04,265.96 335.11,266.63 340.54,266.97 344.62,267.08 352.76,267.3 358.2,266.97 363.63,266.41 367.7,265.63 373.13,261.17 378.57,255.49" fill="none" stroke="#000" stroke-width="1.12" stroke-linejoin="round"/>
<polyline points="274,267.3 293.01,256.72 298.44,256.16 302.52,257.83 307.95,259.5 312.02,260.62 316.1,261.73 321.53,263.4 325.6,264.51 331.04,265.96 335.11,266.63 340.54,266.97 344.62,267.08" fill="none" stroke="#000" stroke-width="1.12" stroke-linejoin="round"/>
<polyline points="274,267.3 293.01,257.27 298.44,256.16 302.52,257.83 307.95,260.06 312.02,261.73 316.1,262.84 321.53,264.51 325.6,265.63 331.04,266.41 335.11,266.85 340.54,267.08 344.62,267.3 352.76,267.3 358.2,267.3 363.63,267.3 367.7,267.3 373.13,267.3" fill="none" stroke="#000" stroke-width="1.12" stroke-linejoin="round"/>
<polyline points="274,267.3 293.01,257.27 298.44,249.7 303.2,237.22 307.95,222.85 312.02,203.02" fill="none" stroke="#000" stroke-width="1.12" stroke-linejoin="round"/>
<polyline points="274,267.3 293.01,257.27 298.44,239 302.52,230.09 307.95,199.79 312.02,182.86" fill="none" stroke="#000" stroke-width="1.12" stroke-linejoin="round"/>
<circle cx="274" cy="267.3" r="2.1" fill="#fff" stroke="#000" stroke-width="1.05"/>
<circle cx="293.01" cy="256.72" r="2.1" fill="#fff" stroke="#000" stroke-width="1.05"/>
<circle cx="298.44" cy="254.49" r="2.1" fill="#fff" stroke="#000" stroke-width="1.05"/>
<circle cx="302.52" cy="256.16" r="2.1" fill="#fff" stroke="#000" stroke-width="1.05"/>
<circle cx="307.95" cy="258.39" r="2.1" fill="#fff" stroke="#000" stroke-width="1.05"/>
<circle cx="312.02" cy="259.72" r="2.1" fill="#fff" stroke="#000" stroke-width="1.05"/>
<circle cx="316.1" cy="261.17" r="2.1" fill="#fff" stroke="#000" stroke-width="1.05"/>
<circle cx="321.53" cy="262.84" r="2.1" fill="#fff" stroke="#000" stroke-width="1.05"/>
<circle cx="325.6" cy="264.18" r="2.1" fill="#fff" stroke="#000" stroke-width="1.05"/>
<circle cx="331.04" cy="265.63" r="2.1" fill="#fff" stroke="#000" stroke-width="1.05"/>
<circle cx="335.11" cy="266.41" r="2.1" fill="#fff" stroke="#000" stroke-width="1.05"/>
<circle cx="340.54" cy="266.74" r="2.1" fill="#fff" stroke="#000" stroke-width="1.05"/>
<circle cx="344.62" cy="266.97" r="2.1" fill="#fff" stroke="#000" stroke-width="1.05"/>
<circle cx="352.76" cy="266.74" r="2.1" fill="#fff" stroke="#000" stroke-width="1.05"/>
<circle cx="358.2" cy="261.17" r="2.1" fill="#fff" stroke="#000" stroke-width="1.05"/>
<circle cx="362.95" cy="259.17" r="2.1" fill="#fff" stroke="#000" stroke-width="1.05"/>
<circle cx="368.65" cy="252.6" r="2.1" fill="#fff" stroke="#000" stroke-width="1.05"/>
<polygon points="274,264.75 276.55,267.3 274,269.85 271.45,267.3" fill="#fff" stroke="#000" stroke-width="1.05"/>
<polygon points="293.01,254.17 295.56,256.72 293.01,259.27 290.46,256.72" fill="#fff" stroke="#000" stroke-width="1.05"/>
<polygon points="298.44,252.5 300.99,255.05 298.44,257.6 295.89,255.05" fill="#fff" stroke="#000" stroke-width="1.05"/>
<polygon points="302.52,254.17 305.07,256.72 302.52,259.27 299.97,256.72" fill="#fff" stroke="#000" stroke-width="1.05"/>
<polygon points="307.95,255.84 310.5,258.39 307.95,260.94 305.4,258.39" fill="#fff" stroke="#000" stroke-width="1.05"/>
<polygon points="312.02,257.51 314.57,260.06 312.02,262.61 309.47,260.06" fill="#fff" stroke="#000" stroke-width="1.05"/>
<polygon points="316.1,258.62 318.65,261.17 316.1,263.72 313.55,261.17" fill="#fff" stroke="#000" stroke-width="1.05"/>
<polygon points="321.53,259.74 324.08,262.29 321.53,264.84 318.98,262.29" fill="#fff" stroke="#000" stroke-width="1.05"/>
<polygon points="325.6,261.41 328.15,263.96 325.6,266.51 323.05,263.96" fill="#fff" stroke="#000" stroke-width="1.05"/>
<polygon points="331.04,263.08 333.59,265.63 331.04,268.18 328.49,265.63" fill="#fff" stroke="#000" stroke-width="1.05"/>
<polygon points="335.11,263.86 337.66,266.41 335.11,268.96 332.56,266.41" fill="#fff" stroke="#000" stroke-width="1.05"/>
<polygon points="340.54,264.19 343.09,266.74 340.54,269.29 337.99,266.74" fill="#fff" stroke="#000" stroke-width="1.05"/>
<polygon points="344.62,264.42 347.17,266.97 344.62,269.52 342.07,266.97" fill="#fff" stroke="#000" stroke-width="1.05"/>
<polygon points="352.76,264.53 355.31,267.08 352.76,269.63 350.21,267.08" fill="#fff" stroke="#000" stroke-width="1.05"/>
<polygon points="358.2,264.19 360.75,266.74 358.2,269.29 355.65,266.74" fill="#fff" stroke="#000" stroke-width="1.05"/>
<polygon points="363.63,263.41 366.18,265.96 363.63,268.51 361.08,265.96" fill="#fff" stroke="#000" stroke-width="1.05"/>
<polygon points="367.7,261.52 370.25,264.07 367.7,266.62 365.15,264.07" fill="#fff" stroke="#000" stroke-width="1.05"/>
<polygon points="373.13,254.95 375.68,257.5 373.13,260.05 370.58,257.5" fill="#fff" stroke="#000" stroke-width="1.05"/>
<polygon points="378.57,250.94 381.12,253.49 378.57,256.04 376.02,253.49" fill="#fff" stroke="#000" stroke-width="1.05"/>
<polygon points="389.43,239.91 391.98,242.46 389.43,245.01 386.88,242.46" fill="#fff" stroke="#000" stroke-width="1.05"/>
<polygon points="398.94,226.32 401.49,228.87 398.94,231.42 396.39,228.87" fill="#fff" stroke="#000" stroke-width="1.05"/>
<polygon points="274,265.1 271.9,269 276.1,269" fill="#fff" stroke="#000" stroke-width="1.05"/>
<polygon points="293.01,255.07 290.91,258.97 295.11,258.97" fill="#fff" stroke="#000" stroke-width="1.05"/>
<polygon points="298.44,253.4 296.34,257.3 300.54,257.3" fill="#fff" stroke="#000" stroke-width="1.05"/>
<polygon points="302.52,255.07 300.42,258.97 304.62,258.97" fill="#fff" stroke="#000" stroke-width="1.05"/>
<polygon points="307.95,256.75 305.85,260.64 310.05,260.64" fill="#fff" stroke="#000" stroke-width="1.05"/>
<polygon points="312.02,258.42 309.92,262.32 314.12,262.32" fill="#fff" stroke="#000" stroke-width="1.05"/>
<polygon points="316.1,259.75 314,263.65 318.2,263.65" fill="#fff" stroke="#000" stroke-width="1.05"/>
<polygon points="321.53,261.2 319.43,265.1 323.63,265.1" fill="#fff" stroke="#000" stroke-width="1.05"/>
<polygon points="325.6,262.65 323.5,266.55 327.7,266.55" fill="#fff" stroke="#000" stroke-width="1.05"/>
<polygon points="331.04,263.76 328.94,267.66 333.14,267.66" fill="#fff" stroke="#000" stroke-width="1.05"/>
<polygon points="335.11,264.43 333.01,268.33 337.21,268.33" fill="#fff" stroke="#000" stroke-width="1.05"/>
<polygon points="340.54,264.77 338.44,268.67 342.64,268.67" fill="#fff" stroke="#000" stroke-width="1.05"/>
<polygon points="344.62,264.88 342.52,268.78 346.72,268.78" fill="#fff" stroke="#000" stroke-width="1.05"/>
<polygon points="352.76,265.1 350.66,269 354.86,269" fill="#fff" stroke="#000" stroke-width="1.05"/>
<polygon points="358.2,264.77 356.1,268.67 360.3,268.67" fill="#fff" stroke="#000" stroke-width="1.05"/>
<polygon points="363.63,264.21 361.53,268.11 365.73,268.11" fill="#fff" stroke="#000" stroke-width="1.05"/>
<polygon points="367.7,263.43 365.6,267.33 369.8,267.33" fill="#fff" stroke="#000" stroke-width="1.05"/>
<polygon points="373.13,258.97 371.03,262.87 375.23,262.87" fill="#fff" stroke="#000" stroke-width="1.05"/>
<polygon points="378.57,253.29 376.47,257.19 380.67,257.19" fill="#fff" stroke="#000" stroke-width="1.05"/>
<circle cx="274" cy="267.3" r="2.15" fill="#000"/>
<circle cx="293.01" cy="256.72" r="2.15" fill="#000"/>
<circle cx="298.44" cy="256.16" r="2.15" fill="#000"/>
<circle cx="302.52" cy="257.83" r="2.15" fill="#000"/>
<circle cx="307.95" cy="259.5" r="2.15" fill="#000"/>
<circle cx="312.02" cy="260.62" r="2.15" fill="#000"/>
<circle cx="316.1" cy="261.73" r="2.15" fill="#000"/>
<circle cx="321.53" cy="263.4" r="2.15" fill="#000"/>
<circle cx="325.6" cy="264.51" r="2.15" fill="#000"/>
<circle cx="331.04" cy="265.96" r="2.15" fill="#000"/>
<circle cx="335.11" cy="266.63" r="2.15" fill="#000"/>
<circle cx="340.54" cy="266.97" r="2.15" fill="#000"/>
<circle cx="344.62" cy="267.08" r="2.15" fill="#000"/>
<polygon points="274,265 271.9,268.95 276.1,268.95" fill="#000" stroke="#000" stroke-width="0.5"/>
<polygon points="293.01,254.97 290.91,258.92 295.11,258.92" fill="#000" stroke="#000" stroke-width="0.5"/>
<polygon points="298.44,253.86 296.34,257.81 300.54,257.81" fill="#000" stroke="#000" stroke-width="0.5"/>
<polygon points="302.52,255.53 300.42,259.48 304.62,259.48" fill="#000" stroke="#000" stroke-width="0.5"/>
<polygon points="307.95,257.76 305.85,261.71 310.05,261.71" fill="#000" stroke="#000" stroke-width="0.5"/>
<polygon points="312.02,259.43 309.92,263.38 314.12,263.38" fill="#000" stroke="#000" stroke-width="0.5"/>
<polygon points="316.1,260.54 314,264.49 318.2,264.49" fill="#000" stroke="#000" stroke-width="0.5"/>
<polygon points="321.53,262.21 319.43,266.16 323.63,266.16" fill="#000" stroke="#000" stroke-width="0.5"/>
<polygon points="325.6,263.33 323.5,267.28 327.7,267.28" fill="#000" stroke="#000" stroke-width="0.5"/>
<polygon points="331.04,264.11 328.94,268.06 333.14,268.06" fill="#000" stroke="#000" stroke-width="0.5"/>
<polygon points="335.11,264.55 333.01,268.5 337.21,268.5" fill="#000" stroke="#000" stroke-width="0.5"/>
<polygon points="340.54,264.78 338.44,268.73 342.64,268.73" fill="#000" stroke="#000" stroke-width="0.5"/>
<polygon points="344.62,265 342.52,268.95 346.72,268.95" fill="#000" stroke="#000" stroke-width="0.5"/>
<polygon points="352.76,265 350.66,268.95 354.86,268.95" fill="#000" stroke="#000" stroke-width="0.5"/>
<polygon points="358.2,265 356.1,268.95 360.3,268.95" fill="#000" stroke="#000" stroke-width="0.5"/>
<polygon points="363.63,265 361.53,268.95 365.73,268.95" fill="#000" stroke="#000" stroke-width="0.5"/>
<polygon points="367.7,265 365.6,268.95 369.8,268.95" fill="#000" stroke="#000" stroke-width="0.5"/>
<polygon points="373.13,265 371.03,268.95 375.23,268.95" fill="#000" stroke="#000" stroke-width="0.5"/>
<path stroke="#000" stroke-width="1.2" d="M272 265.3L276 269.3M272 269.3L276 265.3"/>
<path stroke="#000" stroke-width="1.2" d="M291.01 255.27L295.01 259.27M291.01 259.27L295.01 255.27"/>
<path stroke="#000" stroke-width="1.2" d="M296.44 247.7L300.44 251.7M296.44 251.7L300.44 247.7"/>
<path stroke="#000" stroke-width="1.2" d="M301.2 235.22L305.2 239.22M301.2 239.22L305.2 235.22"/>
<path stroke="#000" stroke-width="1.2" d="M305.95 220.85L309.95 224.85M305.95 224.85L309.95 220.85"/>
<path stroke="#000" stroke-width="1.2" d="M310.02 201.02L314.02 205.02M310.02 205.02L314.02 201.02"/>
<g stroke="#000" stroke-width="0.8"><circle cx="274" cy="267.3" r="2.25" fill="#000" stroke="none"/><path d="M271.96 265.26L276.04 269.34M271.96 269.34L276.04 265.26M271.25 267.3L276.75 267.3M274 264.55L274 270.05"/></g>
<g stroke="#000" stroke-width="0.8"><circle cx="293.01" cy="257.27" r="2.25" fill="#000" stroke="none"/><path d="M290.98 255.24L295.05 259.31M290.98 259.31L295.05 255.24M290.26 257.27L295.76 257.27M293.01 254.52L293.01 260.02"/></g>
<g stroke="#000" stroke-width="0.8"><circle cx="298.44" cy="239" r="2.25" fill="#000" stroke="none"/><path d="M296.41 236.97L300.48 241.04M296.41 241.04L300.48 236.97M295.69 239L301.19 239M298.44 236.25L298.44 241.75"/></g>
<g stroke="#000" stroke-width="0.8"><circle cx="302.52" cy="230.09" r="2.25" fill="#000" stroke="none"/><path d="M300.48 228.06L304.55 232.13M300.48 232.13L304.55 228.06M299.77 230.09L305.27 230.09M302.52 227.34L302.52 232.84"/></g>
<g stroke="#000" stroke-width="0.8"><circle cx="307.95" cy="199.79" r="2.25" fill="#000" stroke="none"/><path d="M305.91 197.76L309.99 201.83M305.91 201.83L309.99 197.76M305.2 199.79L310.7 199.79M307.95 197.04L307.95 202.54"/></g>
<g stroke="#000" stroke-width="0.8"><circle cx="312.02" cy="182.86" r="2.25" fill="#000" stroke="none"/><path d="M309.99 180.82L314.06 184.89M309.99 184.89L314.06 180.82M309.27 182.86L314.77 182.86M312.02 180.11L312.02 185.61"/></g>
<path d="M293.01 288.4L293.01 301" stroke="#000" stroke-width="1.15" fill="none"/>
<polygon points="293.01,285.4 290.41,290.8 295.61,290.8" fill="#000"/>
<path d="M77.4 305.51L77.4 424.3M71.2 418L213.88 418M73.9 399.37L77.4 399.37M71.2 380.73L77.4 380.73M73.9 362.1L77.4 362.1M71.2 343.46L77.4 343.46M73.9 324.82L77.4 324.82M71.2 306.19L77.4 306.19M90.98 418L90.98 421.4M104.56 418L104.56 424.3M118.14 418L118.14 421.4M131.72 418L131.72 424.3M145.3 418L145.3 421.4M158.88 418L158.88 424.3M172.46 418L172.46 421.4M186.04 418L186.04 424.3M199.62 418L199.62 421.4M213.2 418L213.2 424.3" stroke="#000" stroke-width="1.35" fill="none"/>
<text class="t" x="69.5" y="421.05" text-anchor="end">0</text>
<text class="t" x="69.5" y="383.78" text-anchor="end">200</text>
<text class="t" x="69.5" y="346.51" text-anchor="end">400</text>
<text class="t" x="69.5" y="309.24" text-anchor="end">600</text>
<text class="t" x="77.4" y="432.6" text-anchor="middle">0</text>
<text class="t" x="104.56" y="432.6" text-anchor="middle">20</text>
<text class="t" x="131.72" y="432.6" text-anchor="middle">40</text>
<text class="t" x="158.88" y="432.6" text-anchor="middle">60</text>
<text class="t" x="186.04" y="432.6" text-anchor="middle">80</text>
<text class="t" x="213.2" y="432.6" text-anchor="middle">100</text>
<text class="d" x="175.2" y="311.6">3.0 mg/kg</text>
<polyline points="77.4,418 93.7,403.09 99.13,390.05 104.56,397.5 109.99,404.96 115.42,409.61 120.86,413.34 126.29,415.76 135.39,413.53 140.82,413.53 146.11,412.78 153.04,408.68 161.6,394.15" fill="none" stroke="#000" stroke-width="1.08" stroke-linejoin="round"/>
<polyline points="77.4,418 93.7,402.72 99.13,387.25 104.15,388.74 108.63,391.91 113.39,398.25 120.86,408.68 126.29,412.41 135.52,404.96 141.23,390.05 146.52,369.36" fill="none" stroke="#000" stroke-width="1.08" stroke-linejoin="round"/>
<polyline points="77.4,418 93.7,402.72 99.13,387.25 104.56,395.64 109.99,403.09 115.42,407.75 121.67,411.29 126.02,409.8" fill="none" stroke="#000" stroke-width="1.08" stroke-linejoin="round"/>
<polyline points="77.4,418 93.7,402.72 99.13,385.39 103.88,393.96 108.63,401.23 113.66,406.45 121.94,411.11 126.29,409.8 135.39,403.84 140.95,375.88 146.52,322.96" fill="none" stroke="#000" stroke-width="1.08" stroke-linejoin="round"/>
<polyline points="77.4,418 93.7,402.72 99.13,376.44 104.63,312.9" fill="none" stroke="#000" stroke-width="1.08" stroke-linejoin="round"/>
<polyline points="77.4,418 93.7,402.72 99.13,376.44 104.08,322.59" fill="none" stroke="#000" stroke-width="1.08" stroke-linejoin="round"/>
<polyline points="77.4,418 93.7,402.72" fill="none" stroke="#000" stroke-width="1.08" stroke-linejoin="round"/>
<polygon points="77.4,415.7 75.3,419.65 79.5,419.65" fill="#000" stroke="#000" stroke-width="0.5"/>
<polygon points="93.7,400.79 91.6,404.74 95.8,404.74" fill="#000" stroke="#000" stroke-width="0.5"/>
<polygon points="99.13,387.75 97.03,391.7 101.23,391.7" fill="#000" stroke="#000" stroke-width="0.5"/>
<polygon points="104.56,395.2 102.46,399.15 106.66,399.15" fill="#000" stroke="#000" stroke-width="0.5"/>
<polygon points="109.99,402.66 107.89,406.61 112.09,406.61" fill="#000" stroke="#000" stroke-width="0.5"/>
<polygon points="115.42,407.31 113.32,411.26 117.52,411.26" fill="#000" stroke="#000" stroke-width="0.5"/>
<polygon points="120.86,411.04 118.76,414.99 122.96,414.99" fill="#000" stroke="#000" stroke-width="0.5"/>
<polygon points="126.29,413.46 124.19,417.41 128.39,417.41" fill="#000" stroke="#000" stroke-width="0.5"/>
<polygon points="135.39,411.23 133.29,415.18 137.49,415.18" fill="#000" stroke="#000" stroke-width="0.5"/>
<polygon points="140.82,411.23 138.72,415.18 142.92,415.18" fill="#000" stroke="#000" stroke-width="0.5"/>
<polygon points="146.11,410.48 144.01,414.43 148.21,414.43" fill="#000" stroke="#000" stroke-width="0.5"/>
<polygon points="153.04,406.38 150.94,410.33 155.14,410.33" fill="#000" stroke="#000" stroke-width="0.5"/>
<polygon points="161.6,391.85 159.5,395.8 163.7,395.8" fill="#000" stroke="#000" stroke-width="0.5"/>
<polygon points="77.4,415.8 75.3,419.7 79.5,419.7" fill="#fff" stroke="#000" stroke-width="1.05"/>
<polygon points="93.7,400.52 91.6,404.42 95.8,404.42" fill="#fff" stroke="#000" stroke-width="1.05"/>
<polygon points="99.13,385.05 97.03,388.95 101.23,388.95" fill="#fff" stroke="#000" stroke-width="1.05"/>
<polygon points="104.15,386.54 102.05,390.44 106.25,390.44" fill="#fff" stroke="#000" stroke-width="1.05"/>
<polygon points="108.63,389.71 106.53,393.61 110.73,393.61" fill="#fff" stroke="#000" stroke-width="1.05"/>
<polygon points="113.39,396.05 111.29,399.95 115.49,399.95" fill="#fff" stroke="#000" stroke-width="1.05"/>
<polygon points="120.86,406.48 118.76,410.38 122.96,410.38" fill="#fff" stroke="#000" stroke-width="1.05"/>
<polygon points="126.29,410.21 124.19,414.11 128.39,414.11" fill="#fff" stroke="#000" stroke-width="1.05"/>
<polygon points="135.52,402.76 133.42,406.66 137.62,406.66" fill="#fff" stroke="#000" stroke-width="1.05"/>
<polygon points="141.23,387.85 139.13,391.75 143.33,391.75" fill="#fff" stroke="#000" stroke-width="1.05"/>
<polygon points="146.52,367.16 144.42,371.06 148.62,371.06" fill="#fff" stroke="#000" stroke-width="1.05"/>
<circle cx="77.4" cy="418" r="2.1" fill="#fff" stroke="#000" stroke-width="1.05"/>
<circle cx="93.7" cy="402.72" r="2.1" fill="#fff" stroke="#000" stroke-width="1.05"/>
<circle cx="99.13" cy="387.25" r="2.1" fill="#fff" stroke="#000" stroke-width="1.05"/>
<circle cx="104.56" cy="395.64" r="2.1" fill="#fff" stroke="#000" stroke-width="1.05"/>
<circle cx="109.99" cy="403.09" r="2.1" fill="#fff" stroke="#000" stroke-width="1.05"/>
<circle cx="115.42" cy="407.75" r="2.1" fill="#fff" stroke="#000" stroke-width="1.05"/>
<circle cx="121.67" cy="411.29" r="2.1" fill="#fff" stroke="#000" stroke-width="1.05"/>
<circle cx="126.02" cy="409.8" r="2.1" fill="#fff" stroke="#000" stroke-width="1.05"/>
<polygon points="77.4,415.45 79.95,418 77.4,420.55 74.85,418" fill="#fff" stroke="#000" stroke-width="1.05"/>
<polygon points="93.7,400.17 96.25,402.72 93.7,405.27 91.15,402.72" fill="#fff" stroke="#000" stroke-width="1.05"/>
<polygon points="99.13,382.84 101.68,385.39 99.13,387.94 96.58,385.39" fill="#fff" stroke="#000" stroke-width="1.05"/>
<polygon points="103.88,391.41 106.43,393.96 103.88,396.51 101.33,393.96" fill="#fff" stroke="#000" stroke-width="1.05"/>
<polygon points="108.63,398.68 111.18,401.23 108.63,403.78 106.08,401.23" fill="#fff" stroke="#000" stroke-width="1.05"/>
<polygon points="113.66,403.9 116.21,406.45 113.66,409 111.11,406.45" fill="#fff" stroke="#000" stroke-width="1.05"/>
<polygon points="121.94,408.56 124.49,411.11 121.94,413.66 119.39,411.11" fill="#fff" stroke="#000" stroke-width="1.05"/>
<polygon points="126.29,407.25 128.84,409.8 126.29,412.35 123.74,409.8" fill="#fff" stroke="#000" stroke-width="1.05"/>
<polygon points="135.39,401.29 137.94,403.84 135.39,406.39 132.84,403.84" fill="#fff" stroke="#000" stroke-width="1.05"/>
<polygon points="140.95,373.33 143.5,375.88 140.95,378.43 138.4,375.88" fill="#fff" stroke="#000" stroke-width="1.05"/>
<polygon points="146.52,320.41 149.07,322.96 146.52,325.51 143.97,322.96" fill="#fff" stroke="#000" stroke-width="1.05"/>
<g stroke="#000" stroke-width="0.8"><circle cx="77.4" cy="418" r="2.25" fill="#000" stroke="none"/><path d="M75.37 415.96L79.44 420.04M75.37 420.04L79.44 415.96M74.65 418L80.15 418M77.4 415.25L77.4 420.75"/></g>
<g stroke="#000" stroke-width="0.8"><circle cx="93.7" cy="402.72" r="2.25" fill="#000" stroke="none"/><path d="M91.66 400.68L95.73 404.75M91.66 404.75L95.73 400.68M90.95 402.72L96.45 402.72M93.7 399.97L93.7 405.47"/></g>
<g stroke="#000" stroke-width="0.8"><circle cx="99.13" cy="376.44" r="2.25" fill="#000" stroke="none"/><path d="M97.09 374.41L101.16 378.48M97.09 378.48L101.16 374.41M96.38 376.44L101.88 376.44M99.13 373.69L99.13 379.19"/></g>
<g stroke="#000" stroke-width="0.8"><circle cx="104.63" cy="312.9" r="2.25" fill="#000" stroke="none"/><path d="M102.59 310.86L106.66 314.93M102.59 314.93L106.66 310.86M101.88 312.9L107.38 312.9M104.63 310.15L104.63 315.65"/></g>
<rect x="75.1" y="415.7" width="4.6" height="4.6" fill="#fff" stroke="#000" stroke-width="1.05"/>
<rect x="91.4" y="400.42" width="4.6" height="4.6" fill="#fff" stroke="#000" stroke-width="1.05"/>
<rect x="96.83" y="374.14" width="4.6" height="4.6" fill="#fff" stroke="#000" stroke-width="1.05"/>
<rect x="101.78" y="320.29" width="4.6" height="4.6" fill="#fff" stroke="#000" stroke-width="1.05"/>
<g stroke="#000" stroke-width="0.8"><circle cx="77.4" cy="418" r="2.25" fill="#000" stroke="none"/><path d="M75.37 415.96L79.44 420.04M75.37 420.04L79.44 415.96M74.65 418L80.15 418M77.4 415.25L77.4 420.75"/></g>
<g stroke="#000" stroke-width="0.8"><circle cx="93.7" cy="402.72" r="2.25" fill="#000" stroke="none"/><path d="M91.66 400.68L95.73 404.75M91.66 404.75L95.73 400.68M90.95 402.72L96.45 402.72M93.7 399.97L93.7 405.47"/></g>
<path d="M93.49 438.6L93.49 451.2" stroke="#000" stroke-width="1.15" fill="none"/>
<polygon points="93.49,435.6 90.89,441 96.09,441" fill="#000"/>
<path d="M98.92 438.6L98.92 451.2" stroke="#000" stroke-width="1.15" fill="none"/>
<polygon points="98.92,435.6 96.32,441 101.52,441" fill="#000"/>
<path d="M104.42 438.6L104.42 451.2" stroke="#000" stroke-width="1.15" fill="none"/>
<polygon points="104.42,435.6 101.82,441 107.02,441" fill="#000"/>
<path d="M109.99 438.6L109.99 451.2" stroke="#000" stroke-width="1.15" fill="none"/>
<polygon points="109.99,435.6 107.39,441 112.59,441" fill="#000"/>
<path d="M274 305.51L274 424.3M267.8 418L410.48 418M270.5 399.37L274 399.37M267.8 380.73L274 380.73M270.5 362.1L274 362.1M267.8 343.46L274 343.46M270.5 324.82L274 324.82M267.8 306.19L274 306.19M287.58 418L287.58 421.4M301.16 418L301.16 424.3M314.74 418L314.74 421.4M328.32 418L328.32 424.3M341.9 418L341.9 421.4M355.48 418L355.48 424.3M369.06 418L369.06 421.4M382.64 418L382.64 424.3M396.22 418L396.22 421.4M409.8 418L409.8 424.3" stroke="#000" stroke-width="1.35" fill="none"/>
<text class="t" x="266.1" y="421.05" text-anchor="end">0</text>
<text class="t" x="266.1" y="383.78" text-anchor="end">200</text>
<text class="t" x="266.1" y="346.51" text-anchor="end">400</text>
<text class="t" x="266.1" y="309.24" text-anchor="end">600</text>
<text class="t" x="274" y="432.6" text-anchor="middle">0</text>
<text class="t" x="301.16" y="432.6" text-anchor="middle">20</text>
<text class="t" x="328.32" y="432.6" text-anchor="middle">40</text>
<text class="t" x="355.48" y="432.6" text-anchor="middle">60</text>
<text class="t" x="382.64" y="432.6" text-anchor="middle">80</text>
<text class="t" x="409.8" y="432.6" text-anchor="middle">100</text>
<text class="d" x="373.5" y="311.6">6.0 mg/kg</text>
<polyline points="274,418 290.3,402.72 295.73,390.98 301.16,398.43 306.59,400.3 312.02,406.82 317.46,412.41 322.89,414.65 332.39,414.65 337.83,413.34 343.26,412.41" fill="none" stroke="#000" stroke-width="1.08" stroke-linejoin="round"/>
<polyline points="274,418 290.3,402.72 295.73,392.84 301.16,399.37 306.59,403.09 312.02,407.75 317.46,412.41 322.89,415.2 332.39,415.76 337.83,415.76 343.26,415.2 350.05,414.83 358.2,406.07 367.7,385.2" fill="none" stroke="#000" stroke-width="1.08" stroke-linejoin="round"/>
<polyline points="274,418 290.3,402.72 295.73,391.91 301.16,399.37 306.59,404.02 312.02,408.68 317.46,413.34 322.89,415.2 332.39,415.2 337.83,414.65 343.26,414.27" fill="none" stroke="#000" stroke-width="1.08" stroke-linejoin="round"/>
<polyline points="274,418 290.3,403.09 295.73,394.71 301.16,400.3 306.59,404.96 312.02,409.61 317.46,413.9 322.89,415.76 332.39,416.14 337.83,415.76 343.26,415.76 350.05,415.2 358.2,415.2 367.7,416.14 378.57,417.44 386.71,416.7 397.58,416.14 407.08,409.99" fill="none" stroke="#000" stroke-width="1.08" stroke-linejoin="round"/>
<polyline points="274,418 290.3,402.72 295.73,389.3 301.16,398.81 305.91,400.86 311.35,403.65 318.81,410.55 322.89,411.85 332.39,410.92 337.83,410.92 343.26,410.92 350.05,407.56 357.65,385.58" fill="none" stroke="#000" stroke-width="1.08" stroke-linejoin="round"/>
<polyline points="274,418 290.3,402.72 295.73,377 301.16,322.4" fill="none" stroke="#000" stroke-width="1.08" stroke-linejoin="round"/>
<polyline points="274,418 290.3,402.72 295.73,376.26 301.16,313.27" fill="none" stroke="#000" stroke-width="1.08" stroke-linejoin="round"/>
<circle cx="274" cy="418" r="2.1" fill="#fff" stroke="#000" stroke-width="1.05"/>
<circle cx="290.3" cy="402.72" r="2.1" fill="#fff" stroke="#000" stroke-width="1.05"/>
<circle cx="295.73" cy="390.98" r="2.1" fill="#fff" stroke="#000" stroke-width="1.05"/>
<circle cx="301.16" cy="398.43" r="2.1" fill="#fff" stroke="#000" stroke-width="1.05"/>
<circle cx="306.59" cy="400.3" r="2.1" fill="#fff" stroke="#000" stroke-width="1.05"/>
<circle cx="312.02" cy="406.82" r="2.1" fill="#fff" stroke="#000" stroke-width="1.05"/>
<circle cx="317.46" cy="412.41" r="2.1" fill="#fff" stroke="#000" stroke-width="1.05"/>
<circle cx="322.89" cy="414.65" r="2.1" fill="#fff" stroke="#000" stroke-width="1.05"/>
<circle cx="332.39" cy="414.65" r="2.1" fill="#fff" stroke="#000" stroke-width="1.05"/>
<circle cx="337.83" cy="413.34" r="2.1" fill="#fff" stroke="#000" stroke-width="1.05"/>
<circle cx="343.26" cy="412.41" r="2.1" fill="#fff" stroke="#000" stroke-width="1.05"/>
<polygon points="274,415.8 271.9,419.7 276.1,419.7" fill="#fff" stroke="#000" stroke-width="1.05"/>
<polygon points="290.3,400.52 288.2,404.42 292.4,404.42" fill="#fff" stroke="#000" stroke-width="1.05"/>
<polygon points="295.73,390.64 293.63,394.54 297.83,394.54" fill="#fff" stroke="#000" stroke-width="1.05"/>
<polygon points="301.16,397.17 299.06,401.06 303.26,401.06" fill="#fff" stroke="#000" stroke-width="1.05"/>
<polygon points="306.59,400.89 304.49,404.79 308.69,404.79" fill="#fff" stroke="#000" stroke-width="1.05"/>
<polygon points="312.02,405.55 309.92,409.45 314.12,409.45" fill="#fff" stroke="#000" stroke-width="1.05"/>
<polygon points="317.46,410.21 315.36,414.11 319.56,414.11" fill="#fff" stroke="#000" stroke-width="1.05"/>
<polygon points="322.89,413 320.79,416.9 324.99,416.9" fill="#fff" stroke="#000" stroke-width="1.05"/>
<polygon points="332.39,413.56 330.29,417.46 334.49,417.46" fill="#fff" stroke="#000" stroke-width="1.05"/>
<polygon points="337.83,413.56 335.73,417.46 339.93,417.46" fill="#fff" stroke="#000" stroke-width="1.05"/>
<polygon points="343.26,413 341.16,416.9 345.36,416.9" fill="#fff" stroke="#000" stroke-width="1.05"/>
<polygon points="350.05,412.63 347.95,416.53 352.15,416.53" fill="#fff" stroke="#000" stroke-width="1.05"/>
<polygon points="358.2,403.87 356.1,407.77 360.3,407.77" fill="#fff" stroke="#000" stroke-width="1.05"/>
<polygon points="367.7,383 365.6,386.9 369.8,386.9" fill="#fff" stroke="#000" stroke-width="1.05"/>
<circle cx="274" cy="418" r="2.15" fill="#000"/>
<circle cx="290.3" cy="402.72" r="2.15" fill="#000"/>
<circle cx="295.73" cy="391.91" r="2.15" fill="#000"/>
<circle cx="301.16" cy="399.37" r="2.15" fill="#000"/>
<circle cx="306.59" cy="404.02" r="2.15" fill="#000"/>
<circle cx="312.02" cy="408.68" r="2.15" fill="#000"/>
<circle cx="317.46" cy="413.34" r="2.15" fill="#000"/>
<circle cx="322.89" cy="415.2" r="2.15" fill="#000"/>
<circle cx="332.39" cy="415.2" r="2.15" fill="#000"/>
<circle cx="337.83" cy="414.65" r="2.15" fill="#000"/>
<circle cx="343.26" cy="414.27" r="2.15" fill="#000"/>
<polygon points="274,415.7 271.9,419.65 276.1,419.65" fill="#000" stroke="#000" stroke-width="0.5"/>
<polygon points="290.3,400.79 288.2,404.74 292.4,404.74" fill="#000" stroke="#000" stroke-width="0.5"/>
<polygon points="295.73,392.41 293.63,396.36 297.83,396.36" fill="#000" stroke="#000" stroke-width="0.5"/>
<polygon points="301.16,398 299.06,401.95 303.26,401.95" fill="#000" stroke="#000" stroke-width="0.5"/>
<polygon points="306.59,402.66 304.49,406.61 308.69,406.61" fill="#000" stroke="#000" stroke-width="0.5"/>
<polygon points="312.02,407.31 309.92,411.26 314.12,411.26" fill="#000" stroke="#000" stroke-width="0.5"/>
<polygon points="317.46,411.6 315.36,415.55 319.56,415.55" fill="#000" stroke="#000" stroke-width="0.5"/>
<polygon points="322.89,413.46 320.79,417.41 324.99,417.41" fill="#000" stroke="#000" stroke-width="0.5"/>
<polygon points="332.39,413.84 330.29,417.79 334.49,417.79" fill="#000" stroke="#000" stroke-width="0.5"/>
<polygon points="337.83,413.46 335.73,417.41 339.93,417.41" fill="#000" stroke="#000" stroke-width="0.5"/>
<polygon points="343.26,413.46 341.16,417.41 345.36,417.41" fill="#000" stroke="#000" stroke-width="0.5"/>
<polygon points="350.05,412.9 347.95,416.85 352.15,416.85" fill="#000" stroke="#000" stroke-width="0.5"/>
<polygon points="358.2,412.9 356.1,416.85 360.3,416.85" fill="#000" stroke="#000" stroke-width="0.5"/>
<polygon points="367.7,413.84 365.6,417.79 369.8,417.79" fill="#000" stroke="#000" stroke-width="0.5"/>
<polygon points="378.57,415.14 376.47,419.09 380.67,419.09" fill="#000" stroke="#000" stroke-width="0.5"/>
<polygon points="386.71,414.4 384.61,418.35 388.81,418.35" fill="#000" stroke="#000" stroke-width="0.5"/>
<polygon points="397.58,413.84 395.48,417.79 399.68,417.79" fill="#000" stroke="#000" stroke-width="0.5"/>
<polygon points="407.08,407.69 404.98,411.64 409.18,411.64" fill="#000" stroke="#000" stroke-width="0.5"/>
<polygon points="274,415.45 276.55,418 274,420.55 271.45,418" fill="#fff" stroke="#000" stroke-width="1.05"/>
<polygon points="290.3,400.17 292.85,402.72 290.3,405.27 287.75,402.72" fill="#fff" stroke="#000" stroke-width="1.05"/>
<polygon points="295.73,386.75 298.28,389.3 295.73,391.85 293.18,389.3" fill="#fff" stroke="#000" stroke-width="1.05"/>
<polygon points="301.16,396.26 303.71,398.81 301.16,401.36 298.61,398.81" fill="#fff" stroke="#000" stroke-width="1.05"/>
<polygon points="305.91,398.31 308.46,400.86 305.91,403.41 303.36,400.86" fill="#fff" stroke="#000" stroke-width="1.05"/>
<polygon points="311.35,401.1 313.9,403.65 311.35,406.2 308.8,403.65" fill="#fff" stroke="#000" stroke-width="1.05"/>
<polygon points="318.81,408 321.36,410.55 318.81,413.1 316.26,410.55" fill="#fff" stroke="#000" stroke-width="1.05"/>
<polygon points="322.89,409.3 325.44,411.85 322.89,414.4 320.34,411.85" fill="#fff" stroke="#000" stroke-width="1.05"/>
<polygon points="332.39,408.37 334.94,410.92 332.39,413.47 329.84,410.92" fill="#fff" stroke="#000" stroke-width="1.05"/>
<polygon points="337.83,408.37 340.38,410.92 337.83,413.47 335.28,410.92" fill="#fff" stroke="#000" stroke-width="1.05"/>
<polygon points="343.26,408.37 345.81,410.92 343.26,413.47 340.71,410.92" fill="#fff" stroke="#000" stroke-width="1.05"/>
<polygon points="350.05,405.01 352.6,407.56 350.05,410.11 347.5,407.56" fill="#fff" stroke="#000" stroke-width="1.05"/>
<polygon points="357.65,383.03 360.2,385.58 357.65,388.13 355.1,385.58" fill="#fff" stroke="#000" stroke-width="1.05"/>
<path stroke="#000" stroke-width="1.2" d="M272 416L276 420M272 420L276 416"/>
<path stroke="#000" stroke-width="1.2" d="M288.3 400.72L292.3 404.72M288.3 404.72L292.3 400.72"/>
<path stroke="#000" stroke-width="1.2" d="M293.73 375L297.73 379M293.73 379L297.73 375"/>
<path stroke="#000" stroke-width="1.2" d="M299.16 320.4L303.16 324.4M299.16 324.4L303.16 320.4"/>
<g stroke="#000" stroke-width="0.8"><circle cx="274" cy="418" r="2.25" fill="#000" stroke="none"/><path d="M271.96 415.96L276.04 420.04M271.96 420.04L276.04 415.96M271.25 418L276.75 418M274 415.25L274 420.75"/></g>
<g stroke="#000" stroke-width="0.8"><circle cx="290.3" cy="402.72" r="2.25" fill="#000" stroke="none"/><path d="M288.26 400.68L292.33 404.75M288.26 404.75L292.33 400.68M287.55 402.72L293.05 402.72M290.3 399.97L290.3 405.47"/></g>
<g stroke="#000" stroke-width="0.8"><circle cx="295.73" cy="376.26" r="2.25" fill="#000" stroke="none"/><path d="M293.69 374.22L297.76 378.29M293.69 378.29L297.76 374.22M292.98 376.26L298.48 376.26M295.73 373.51L295.73 379.01"/></g>
<g stroke="#000" stroke-width="0.8"><circle cx="301.16" cy="313.27" r="2.25" fill="#000" stroke="none"/><path d="M299.12 311.24L303.2 315.31M299.12 315.31L303.2 311.24M298.41 313.27L303.91 313.27M301.16 310.52L301.16 316.02"/></g>
<path d="M290.09 438.6L290.09 451.2" stroke="#000" stroke-width="1.15" fill="none"/>
<polygon points="290.09,435.6 287.49,441 292.69,441" fill="#000"/>
<path d="M295.52 438.6L295.52 451.2" stroke="#000" stroke-width="1.15" fill="none"/>
<polygon points="295.52,435.6 292.92,441 298.12,441" fill="#000"/>
<path d="M301.02 438.6L301.02 451.2" stroke="#000" stroke-width="1.15" fill="none"/>
<polygon points="301.02,435.6 298.42,441 303.62,441" fill="#000"/>
<path d="M306.59 438.6L306.59 451.2" stroke="#000" stroke-width="1.15" fill="none"/>
<polygon points="306.59,435.6 303.99,441 309.19,441" fill="#000"/>
<path d="M77.4 456.19L77.4 575M71.2 568.7L213.88 568.7M73.9 554.72L77.4 554.72M71.2 540.74L77.4 540.74M73.9 526.76L77.4 526.76M71.2 512.78L77.4 512.78M73.9 498.8L77.4 498.8M71.2 484.82L77.4 484.82M73.9 470.84L77.4 470.84M71.2 456.86L77.4 456.86M94.38 568.7L94.38 572.1M111.35 568.7L111.35 575M128.32 568.7L128.32 572.1M145.3 568.7L145.3 575M162.28 568.7L162.28 572.1M179.25 568.7L179.25 575M196.23 568.7L196.23 572.1M213.2 568.7L213.2 575" stroke="#000" stroke-width="1.35" fill="none"/>
<text class="t" x="69.5" y="571.75" text-anchor="end">0</text>
<text class="t" x="69.5" y="543.79" text-anchor="end">200</text>
<text class="t" x="69.5" y="515.83" text-anchor="end">400</text>
<text class="t" x="69.5" y="487.87" text-anchor="end">600</text>
<text class="t" x="69.5" y="459.91" text-anchor="end">800</text>
<text class="t" x="77.4" y="583.3" text-anchor="middle">0</text>
<text class="t" x="111.35" y="583.3" text-anchor="middle">20</text>
<text class="t" x="145.3" y="583.3" text-anchor="middle">40</text>
<text class="t" x="179.25" y="583.3" text-anchor="middle">60</text>
<text class="t" x="213.2" y="583.3" text-anchor="middle">80</text>
<text class="d" x="175.4" y="462.5">1.5 mg/kg</text>
<polyline points="77.4,568.7 99.47,556.68 106.26,559.61 113.05,561.99 121.53,561.15 126.63,563.95 133.42,562.41 135.96,562.41 139.36,561.99 144.79,561.15 151.75,560.73 156.33,558.91 168.22,558.08 174.16,552.34 180.95,550.95 186.89,548.01 192.83,542.28 197.92,535.15 204.71,524.1 209.81,512.92" fill="none" stroke="#000" stroke-width="1.3" stroke-linejoin="round"/>
<polyline points="77.4,568.7 99.47,556.68 105.58,552.76 113.05,558.08 121.53,558.91 126.29,552.76 133.25,536.69 136.3,525.64" fill="none" stroke="#000" stroke-width="1.3" stroke-linejoin="round"/>
<polyline points="77.4,568.7 99.47,556.68 106.26,556.82 113.05,558.63 121.53,555.42 126.63,559.19 131.72,556.26 135.96,553.46 140.21,556.82 145.3,553.18 152.6,550.11 157.18,539.76" fill="none" stroke="#000" stroke-width="1.3" stroke-linejoin="round"/>
<polyline points="77.4,568.7 99.47,556.68 106.26,541.16 113.05,527.88 121.53,503.55 126.63,479.93" fill="none" stroke="#000" stroke-width="1.3" stroke-linejoin="round"/>
<polygon points="77.4,571 75.25,567 79.55,567" fill="#000" stroke="#000" stroke-width="0.5"/>
<polygon points="99.47,558.98 97.32,554.98 101.62,554.98" fill="#000" stroke="#000" stroke-width="0.5"/>
<polygon points="106.26,561.91 104.11,557.91 108.41,557.91" fill="#000" stroke="#000" stroke-width="0.5"/>
<polygon points="113.05,564.29 110.9,560.29 115.2,560.29" fill="#000" stroke="#000" stroke-width="0.5"/>
<polygon points="121.53,563.45 119.38,559.45 123.69,559.45" fill="#000" stroke="#000" stroke-width="0.5"/>
<polygon points="126.63,566.25 124.48,562.25 128.78,562.25" fill="#000" stroke="#000" stroke-width="0.5"/>
<polygon points="133.42,564.71 131.27,560.71 135.57,560.71" fill="#000" stroke="#000" stroke-width="0.5"/>
<polygon points="135.96,564.71 133.81,560.71 138.11,560.71" fill="#000" stroke="#000" stroke-width="0.5"/>
<polygon points="139.36,564.29 137.21,560.29 141.51,560.29" fill="#000" stroke="#000" stroke-width="0.5"/>
<polygon points="144.79,563.45 142.64,559.45 146.94,559.45" fill="#000" stroke="#000" stroke-width="0.5"/>
<polygon points="151.75,563.03 149.6,559.03 153.9,559.03" fill="#000" stroke="#000" stroke-width="0.5"/>
<polygon points="156.33,561.21 154.18,557.21 158.48,557.21" fill="#000" stroke="#000" stroke-width="0.5"/>
<polygon points="168.22,560.38 166.07,556.38 170.37,556.38" fill="#000" stroke="#000" stroke-width="0.5"/>
<polygon points="174.16,554.64 172.01,550.64 176.31,550.64" fill="#000" stroke="#000" stroke-width="0.5"/>
<polygon points="180.95,553.25 178.8,549.25 183.1,549.25" fill="#000" stroke="#000" stroke-width="0.5"/>
<polygon points="186.89,550.31 184.74,546.31 189.04,546.31" fill="#000" stroke="#000" stroke-width="0.5"/>
<polygon points="192.83,544.58 190.68,540.58 194.98,540.58" fill="#000" stroke="#000" stroke-width="0.5"/>
<polygon points="197.92,537.45 195.77,533.45 200.07,533.45" fill="#000" stroke="#000" stroke-width="0.5"/>
<polygon points="204.71,526.4 202.56,522.4 206.86,522.4" fill="#000" stroke="#000" stroke-width="0.5"/>
<polygon points="209.81,515.22 207.66,511.22 211.96,511.22" fill="#000" stroke="#000" stroke-width="0.5"/>
<polygon points="77.4,571.1 75.1,566.9 79.7,566.9" fill="#fff" stroke="#000" stroke-width="1.05"/>
<polygon points="99.47,559.08 97.17,554.88 101.77,554.88" fill="#fff" stroke="#000" stroke-width="1.05"/>
<polygon points="105.58,555.16 103.28,550.96 107.88,550.96" fill="#fff" stroke="#000" stroke-width="1.05"/>
<polygon points="113.05,560.48 110.75,556.28 115.35,556.28" fill="#fff" stroke="#000" stroke-width="1.05"/>
<polygon points="121.53,561.31 119.23,557.11 123.83,557.11" fill="#fff" stroke="#000" stroke-width="1.05"/>
<polygon points="126.29,555.16 123.99,550.96 128.59,550.96" fill="#fff" stroke="#000" stroke-width="1.05"/>
<polygon points="133.25,539.09 130.95,534.89 135.55,534.89" fill="#fff" stroke="#000" stroke-width="1.05"/>
<polygon points="136.3,528.04 134,523.84 138.6,523.84" fill="#fff" stroke="#000" stroke-width="1.05"/>
<polygon points="77.4,565.8 80.3,568.7 77.4,571.6 74.5,568.7" fill="#000" stroke="#000" stroke-width="0.4"/>
<polygon points="99.47,553.78 102.37,556.68 99.47,559.58 96.57,556.68" fill="#000" stroke="#000" stroke-width="0.4"/>
<polygon points="106.26,553.92 109.16,556.82 106.26,559.72 103.36,556.82" fill="#000" stroke="#000" stroke-width="0.4"/>
<polygon points="113.05,555.73 115.95,558.63 113.05,561.53 110.15,558.63" fill="#000" stroke="#000" stroke-width="0.4"/>
<polygon points="121.53,552.52 124.44,555.42 121.53,558.32 118.63,555.42" fill="#000" stroke="#000" stroke-width="0.4"/>
<polygon points="126.63,556.29 129.53,559.19 126.63,562.09 123.73,559.19" fill="#000" stroke="#000" stroke-width="0.4"/>
<polygon points="131.72,553.36 134.62,556.26 131.72,559.16 128.82,556.26" fill="#000" stroke="#000" stroke-width="0.4"/>
<polygon points="135.96,550.56 138.86,553.46 135.96,556.36 133.06,553.46" fill="#000" stroke="#000" stroke-width="0.4"/>
<polygon points="140.21,553.92 143.11,556.82 140.21,559.72 137.31,556.82" fill="#000" stroke="#000" stroke-width="0.4"/>
<polygon points="145.3,550.28 148.2,553.18 145.3,556.08 142.4,553.18" fill="#000" stroke="#000" stroke-width="0.4"/>
<polygon points="152.6,547.21 155.5,550.11 152.6,553.01 149.7,550.11" fill="#000" stroke="#000" stroke-width="0.4"/>
<polygon points="157.18,536.86 160.08,539.76 157.18,542.66 154.28,539.76" fill="#000" stroke="#000" stroke-width="0.4"/>
<g stroke="#000" stroke-width="0.8"><circle cx="77.4" cy="568.7" r="2.25" fill="#000" stroke="none"/><path d="M75.37 566.67L79.44 570.74M75.37 570.74L79.44 566.67M74.65 568.7L80.15 568.7M77.4 565.95L77.4 571.45"/></g>
<g stroke="#000" stroke-width="0.8"><circle cx="99.47" cy="556.68" r="2.25" fill="#000" stroke="none"/><path d="M97.43 554.64L101.5 558.71M97.43 558.71L101.5 554.64M96.72 556.68L102.22 556.68M99.47 553.93L99.47 559.43"/></g>
<g stroke="#000" stroke-width="0.8"><circle cx="106.26" cy="541.16" r="2.25" fill="#000" stroke="none"/><path d="M104.22 539.12L108.29 543.19M104.22 543.19L108.29 539.12M103.51 541.16L109.01 541.16M106.26 538.41L106.26 543.91"/></g>
<g stroke="#000" stroke-width="0.8"><circle cx="113.05" cy="527.88" r="2.25" fill="#000" stroke="none"/><path d="M111.01 525.84L115.08 529.91M111.01 529.91L115.08 525.84M110.3 527.88L115.8 527.88M113.05 525.13L113.05 530.63"/></g>
<g stroke="#000" stroke-width="0.8"><circle cx="121.53" cy="503.55" r="2.25" fill="#000" stroke="none"/><path d="M119.5 501.52L123.57 505.59M119.5 505.59L123.57 501.52M118.78 503.55L124.28 503.55M121.53 500.8L121.53 506.3"/></g>
<g stroke="#000" stroke-width="0.8"><circle cx="126.63" cy="479.93" r="2.25" fill="#000" stroke="none"/><path d="M124.59 477.89L128.66 481.96M124.59 481.96L128.66 477.89M123.88 479.93L129.38 479.93M126.63 477.18L126.63 482.68"/></g>
<path d="M99.47 589.7L99.47 602.3" stroke="#000" stroke-width="1.15" fill="none"/>
<polygon points="99.47,586.7 96.87,592.1 102.07,592.1" fill="#000"/>
<path d="M274 456.19L274 575M267.8 568.7L410.48 568.7M270.5 554.72L274 554.72M267.8 540.74L274 540.74M270.5 526.76L274 526.76M267.8 512.78L274 512.78M270.5 498.8L274 498.8M267.8 484.82L274 484.82M270.5 470.84L274 470.84M267.8 456.86L274 456.86M290.98 568.7L290.98 572.1M307.95 568.7L307.95 575M324.93 568.7L324.93 572.1M341.9 568.7L341.9 575M358.88 568.7L358.88 572.1M375.85 568.7L375.85 575M392.82 568.7L392.82 572.1M409.8 568.7L409.8 575" stroke="#000" stroke-width="1.35" fill="none"/>
<text class="t" x="266.1" y="571.75" text-anchor="end">0</text>
<text class="t" x="266.1" y="543.79" text-anchor="end">200</text>
<text class="t" x="266.1" y="515.83" text-anchor="end">400</text>
<text class="t" x="266.1" y="487.87" text-anchor="end">600</text>
<text class="t" x="266.1" y="459.91" text-anchor="end">800</text>
<text class="t" x="274" y="583.3" text-anchor="middle">0</text>
<text class="t" x="307.95" y="583.3" text-anchor="middle">20</text>
<text class="t" x="341.9" y="583.3" text-anchor="middle">40</text>
<text class="t" x="375.85" y="583.3" text-anchor="middle">60</text>
<text class="t" x="409.8" y="583.3" text-anchor="middle">80</text>
<text class="d" x="374" y="462.4">4.5 mg/kg</text>
<polyline points="274,568.7 296.07,556.4 303.71,551.23 309.65,558.91 317.29,559.61 323.23,559.61 330.02,561.01 335.96,561.71 342.75,561.71 348.35,556.82 352.93,551.92 367.19,536.27 370.76,526.62 379.58,513.2 384.85,486.36" fill="none" stroke="#000" stroke-width="1.3" stroke-linejoin="round"/>
<polyline points="274,568.7 296.07,556.4 302.86,558.91 309.65,562.41 317.29,563.11 323.23,563.11 330.02,563.39 335.96,563.39 342.75,563.39 349.2,562.69 353.78,562.41 366.68,559.89 371.78,558.22 380.09,554.72 384.85,551.78 390.28,548.29 394.52,542.42 401.31,519.49" fill="none" stroke="#000" stroke-width="1.3" stroke-linejoin="round"/>
<polyline points="274,568.7 296.07,556.4 302.86,557.52 309.65,560.31 317.29,561.01 323.23,561.01 330.02,561.43 335.96,561.43 342.75,561.71 349.2,561.01 353.78,556.12 367.19,543.82 371.78,539.06 380.09,533.75 384.85,528.72 390.28,523.68 394.52,519.77" fill="none" stroke="#000" stroke-width="1.3" stroke-linejoin="round"/>
<polyline points="274,568.7 296.07,556.4 302.86,550.53 309.99,542.42 318.13,528.72 323.74,510.82" fill="none" stroke="#000" stroke-width="1.3" stroke-linejoin="round"/>
<polyline points="274,568.7 296.07,556.4 302.86,541.02 309.65,526.62 318.13,503.13 323.74,480.07" fill="none" stroke="#000" stroke-width="1.3" stroke-linejoin="round"/>
<polyline points="274,568.7 296.07,556.4 302.86,541.02 309.65,526.62 318.13,503.13 323.74,480.07" fill="none" stroke="#000" stroke-width="1.3" stroke-linejoin="round"/>
<polygon points="274,571.1 271.7,566.9 276.3,566.9" fill="#fff" stroke="#000" stroke-width="1.05"/>
<polygon points="296.07,558.8 293.77,554.6 298.37,554.6" fill="#fff" stroke="#000" stroke-width="1.05"/>
<polygon points="303.71,553.62 301.41,549.43 306.01,549.43" fill="#fff" stroke="#000" stroke-width="1.05"/>
<polygon points="309.65,561.31 307.35,557.11 311.95,557.11" fill="#fff" stroke="#000" stroke-width="1.05"/>
<polygon points="317.29,562.01 314.99,557.81 319.59,557.81" fill="#fff" stroke="#000" stroke-width="1.05"/>
<polygon points="323.23,562.01 320.93,557.81 325.53,557.81" fill="#fff" stroke="#000" stroke-width="1.05"/>
<polygon points="330.02,563.41 327.72,559.21 332.32,559.21" fill="#fff" stroke="#000" stroke-width="1.05"/>
<polygon points="335.96,564.11 333.66,559.91 338.26,559.91" fill="#fff" stroke="#000" stroke-width="1.05"/>
<polygon points="342.75,564.11 340.45,559.91 345.05,559.91" fill="#fff" stroke="#000" stroke-width="1.05"/>
<polygon points="348.35,559.22 346.05,555.02 350.65,555.02" fill="#fff" stroke="#000" stroke-width="1.05"/>
<polygon points="352.93,554.32 350.63,550.12 355.23,550.12" fill="#fff" stroke="#000" stroke-width="1.05"/>
<polygon points="367.19,538.67 364.89,534.47 369.49,534.47" fill="#fff" stroke="#000" stroke-width="1.05"/>
<polygon points="370.76,529.02 368.46,524.82 373.06,524.82" fill="#fff" stroke="#000" stroke-width="1.05"/>
<polygon points="379.58,515.6 377.28,511.4 381.88,511.4" fill="#fff" stroke="#000" stroke-width="1.05"/>
<polygon points="384.85,488.76 382.55,484.56 387.15,484.56" fill="#fff" stroke="#000" stroke-width="1.05"/>
<polygon points="274,571 271.85,567 276.15,567" fill="#000" stroke="#000" stroke-width="0.5"/>
<polygon points="296.07,558.7 293.92,554.7 298.22,554.7" fill="#000" stroke="#000" stroke-width="0.5"/>
<polygon points="302.86,561.21 300.71,557.21 305.01,557.21" fill="#000" stroke="#000" stroke-width="0.5"/>
<polygon points="309.65,564.71 307.5,560.71 311.8,560.71" fill="#000" stroke="#000" stroke-width="0.5"/>
<polygon points="317.29,565.41 315.14,561.41 319.44,561.41" fill="#000" stroke="#000" stroke-width="0.5"/>
<polygon points="323.23,565.41 321.08,561.41 325.38,561.41" fill="#000" stroke="#000" stroke-width="0.5"/>
<polygon points="330.02,565.69 327.87,561.69 332.17,561.69" fill="#000" stroke="#000" stroke-width="0.5"/>
<polygon points="335.96,565.69 333.81,561.69 338.11,561.69" fill="#000" stroke="#000" stroke-width="0.5"/>
<polygon points="342.75,565.69 340.6,561.69 344.9,561.69" fill="#000" stroke="#000" stroke-width="0.5"/>
<polygon points="349.2,564.99 347.05,560.99 351.35,560.99" fill="#000" stroke="#000" stroke-width="0.5"/>
<polygon points="353.78,564.71 351.63,560.71 355.93,560.71" fill="#000" stroke="#000" stroke-width="0.5"/>
<polygon points="366.68,562.19 364.53,558.19 368.83,558.19" fill="#000" stroke="#000" stroke-width="0.5"/>
<polygon points="371.78,560.51 369.63,556.51 373.93,556.51" fill="#000" stroke="#000" stroke-width="0.5"/>
<polygon points="380.09,557.02 377.94,553.02 382.24,553.02" fill="#000" stroke="#000" stroke-width="0.5"/>
<polygon points="384.85,554.08 382.7,550.08 387,550.08" fill="#000" stroke="#000" stroke-width="0.5"/>
<polygon points="390.28,550.59 388.13,546.59 392.43,546.59" fill="#000" stroke="#000" stroke-width="0.5"/>
<polygon points="394.52,544.72 392.37,540.72 396.67,540.72" fill="#000" stroke="#000" stroke-width="0.5"/>
<polygon points="401.31,521.79 399.16,517.79 403.46,517.79" fill="#000" stroke="#000" stroke-width="0.5"/>
<polygon points="274,565.8 276.9,568.7 274,571.6 271.1,568.7" fill="#000" stroke="#000" stroke-width="0.4"/>
<polygon points="296.07,553.5 298.97,556.4 296.07,559.3 293.17,556.4" fill="#000" stroke="#000" stroke-width="0.4"/>
<polygon points="302.86,554.62 305.76,557.52 302.86,560.42 299.96,557.52" fill="#000" stroke="#000" stroke-width="0.4"/>
<polygon points="309.65,557.41 312.55,560.31 309.65,563.21 306.75,560.31" fill="#000" stroke="#000" stroke-width="0.4"/>
<polygon points="317.29,558.11 320.19,561.01 317.29,563.91 314.39,561.01" fill="#000" stroke="#000" stroke-width="0.4"/>
<polygon points="323.23,558.11 326.13,561.01 323.23,563.91 320.33,561.01" fill="#000" stroke="#000" stroke-width="0.4"/>
<polygon points="330.02,558.53 332.92,561.43 330.02,564.33 327.12,561.43" fill="#000" stroke="#000" stroke-width="0.4"/>
<polygon points="335.96,558.53 338.86,561.43 335.96,564.33 333.06,561.43" fill="#000" stroke="#000" stroke-width="0.4"/>
<polygon points="342.75,558.81 345.65,561.71 342.75,564.61 339.85,561.71" fill="#000" stroke="#000" stroke-width="0.4"/>
<polygon points="349.2,558.11 352.1,561.01 349.2,563.91 346.3,561.01" fill="#000" stroke="#000" stroke-width="0.4"/>
<polygon points="353.78,553.22 356.68,556.12 353.78,559.02 350.88,556.12" fill="#000" stroke="#000" stroke-width="0.4"/>
<polygon points="367.19,540.92 370.09,543.82 367.19,546.72 364.29,543.82" fill="#000" stroke="#000" stroke-width="0.4"/>
<polygon points="371.78,536.16 374.68,539.06 371.78,541.96 368.88,539.06" fill="#000" stroke="#000" stroke-width="0.4"/>
<polygon points="380.09,530.85 382.99,533.75 380.09,536.65 377.19,533.75" fill="#000" stroke="#000" stroke-width="0.4"/>
<polygon points="384.85,525.82 387.75,528.72 384.85,531.62 381.95,528.72" fill="#000" stroke="#000" stroke-width="0.4"/>
<polygon points="390.28,520.78 393.18,523.68 390.28,526.58 387.38,523.68" fill="#000" stroke="#000" stroke-width="0.4"/>
<polygon points="394.52,516.87 397.42,519.77 394.52,522.67 391.62,519.77" fill="#000" stroke="#000" stroke-width="0.4"/>
<rect x="271.9" y="566.6" width="4.2" height="4.2" fill="#000"/>
<rect x="293.97" y="554.3" width="4.2" height="4.2" fill="#000"/>
<rect x="300.76" y="548.43" width="4.2" height="4.2" fill="#000"/>
<rect x="307.89" y="540.32" width="4.2" height="4.2" fill="#000"/>
<rect x="316.03" y="526.62" width="4.2" height="4.2" fill="#000"/>
<rect x="321.64" y="508.72" width="4.2" height="4.2" fill="#000"/>
<path stroke="#000" stroke-width="1.2" d="M272 566.7L276 570.7M272 570.7L276 566.7"/>
<path stroke="#000" stroke-width="1.2" d="M294.07 554.4L298.07 558.4M294.07 558.4L298.07 554.4"/>
<path stroke="#000" stroke-width="1.2" d="M300.86 539.02L304.86 543.02M300.86 543.02L304.86 539.02"/>
<path stroke="#000" stroke-width="1.2" d="M307.65 524.62L311.65 528.62M307.65 528.62L311.65 524.62"/>
<path stroke="#000" stroke-width="1.2" d="M316.13 501.13L320.13 505.13M316.13 505.13L320.13 501.13"/>
<path stroke="#000" stroke-width="1.2" d="M321.74 478.07L325.74 482.07M321.74 482.07L325.74 478.07"/>
<g stroke="#000" stroke-width="0.8"><circle cx="274" cy="568.7" r="2.25" fill="#000" stroke="none"/><path d="M271.96 566.67L276.04 570.74M271.96 570.74L276.04 566.67M271.25 568.7L276.75 568.7M274 565.95L274 571.45"/></g>
<g stroke="#000" stroke-width="0.8"><circle cx="296.07" cy="556.4" r="2.25" fill="#000" stroke="none"/><path d="M294.03 554.36L298.1 558.43M294.03 558.43L298.1 554.36M293.32 556.4L298.82 556.4M296.07 553.65L296.07 559.15"/></g>
<g stroke="#000" stroke-width="0.8"><circle cx="302.86" cy="541.02" r="2.25" fill="#000" stroke="none"/><path d="M300.82 538.98L304.89 543.05M300.82 543.05L304.89 538.98M300.11 541.02L305.61 541.02M302.86 538.27L302.86 543.77"/></g>
<g stroke="#000" stroke-width="0.8"><circle cx="309.65" cy="526.62" r="2.25" fill="#000" stroke="none"/><path d="M307.61 524.59L311.68 528.66M307.61 528.66L311.68 524.59M306.9 526.62L312.4 526.62M309.65 523.87L309.65 529.37"/></g>
<g stroke="#000" stroke-width="0.8"><circle cx="318.13" cy="503.13" r="2.25" fill="#000" stroke="none"/><path d="M316.1 501.1L320.17 505.17M316.1 505.17L320.17 501.1M315.38 503.13L320.88 503.13M318.13 500.38L318.13 505.88"/></g>
<g stroke="#000" stroke-width="0.8"><circle cx="323.74" cy="480.07" r="2.25" fill="#000" stroke="none"/><path d="M321.7 478.03L325.77 482.1M321.7 482.1L325.77 478.03M320.99 480.07L326.49 480.07M323.74 477.32L323.74 482.82"/></g>
<path d="M296.07 589.7L296.07 602.3" stroke="#000" stroke-width="1.15" fill="none"/>
<polygon points="296.07,586.7 293.47,592.1 298.67,592.1" fill="#000"/>
<path d="M39.2 653.7L55 653.7" stroke="#000" stroke-width="1.9"/>
<polygon points="47.2,650.84 44.47,655.91 49.93,655.91" fill="#fff" stroke="#000" stroke-width="1.37"/>
<text class="l" x="63.3" y="657.6">IgG1-vcF4</text>
<path d="M39.2 674.9L55 674.9" stroke="#000" stroke-width="1.9"/>
<polygon points="47.2,671.91 44.47,677.04 49.93,677.04" fill="#000" stroke="#000" stroke-width="0.5"/>
<text class="l" x="63.3" y="678.8">IgG1v1-vcF4</text>
<path d="M39.2 695.3L55 695.3" stroke="#000" stroke-width="1.9"/>
<polygon points="47.2,691.98 50.52,695.3 47.2,698.62 43.89,695.3" fill="#fff" stroke="#000" stroke-width="1.37"/>
<text class="l" x="63.3" y="699.2">IgG2-vcF4</text>
<path d="M136.8 653.7L152.6 653.7" stroke="#000" stroke-width="1.9"/>
<circle cx="144.8" cy="653.7" r="2.73" fill="#fff" stroke="#000" stroke-width="1.37"/>
<text class="l" x="161.4" y="657.6">IgG4-vcF4</text>
<path d="M136.8 674.9L152.6 674.9" stroke="#000" stroke-width="1.9"/>
<circle cx="144.8" cy="674.9" r="2.79" fill="#000"/>
<text class="l" x="161.4" y="678.8">IgG4v3-vcF4</text>
<path d="M136.8 695.3L152.6 695.3" stroke="#000" stroke-width="1.9"/>
<rect x="141.81" y="692.31" width="5.98" height="5.98" fill="#fff" stroke="#000" stroke-width="1.37"/>
<text class="l" x="161.4" y="699.2">Control IgG1-vcF4</text>
<path d="M263 653.7L278.8 653.7" stroke="#000" stroke-width="1.9"/>
<polygon points="271,656.82 268.01,651.36 273.99,651.36" fill="#fff" stroke="#000" stroke-width="1.37"/>
<text class="l" x="287.2" y="657.6">IgG1-mcF4</text>
<path d="M263 674.9L278.8 674.9" stroke="#000" stroke-width="1.9"/>
<polygon points="271,677.89 268.2,672.69 273.8,672.69" fill="#000" stroke="#000" stroke-width="0.5"/>
<text class="l" x="287.2" y="678.8">IgG1v1-mcF4</text>
<path d="M263 695.3L278.8 695.3" stroke="#000" stroke-width="1.9"/>
<polygon points="271,691.53 274.77,695.3 271,699.07 267.23,695.3" fill="#000" stroke="#000" stroke-width="0.4"/>
<text class="l" x="287.2" y="699.2">IgG2-mcF4</text>
<path d="M372 653.7L387.8 653.7" stroke="#000" stroke-width="1.9"/>
<g stroke="#000" stroke-width="0.8"><circle cx="380" cy="653.7" r="2.93" fill="#000" stroke="none"/><path d="M377.35 651.05L382.65 656.35M377.35 656.35L382.65 651.05M376.43 653.7L383.57 653.7M380 650.12L380 657.28"/></g>
<text class="l" x="396.7" y="657.6">Untreated</text>
<path d="M372 674.9L387.8 674.9" stroke="#000" stroke-width="1.9"/>
<path stroke="#000" stroke-width="1.56" d="M377.4 672.3L382.6 677.5M377.4 677.5L382.6 672.3"/>
<text class="l" x="396.7" y="678.8">IgG1</text>
<path d="M372 695.3L387.8 695.3" stroke="#000" stroke-width="1.9"/>
<rect x="377.27" y="692.57" width="5.46" height="5.46" fill="#000"/>
<text class="l" x="396.7" y="699.2">Control IgG1-mcF4</text>
</svg>
</body></html>
